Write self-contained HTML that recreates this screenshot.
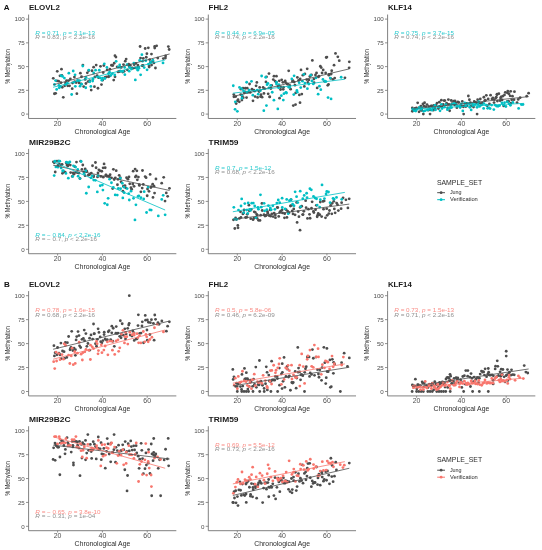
<!DOCTYPE html><html><head><meta charset="utf-8"><style>html,body{margin:0;padding:0;background:#fff;width:542px;height:550px;overflow:hidden}svg{display:block;filter:blur(0.45px);font-family:"Liberation Sans",sans-serif}</style></head><body><svg width="542" height="550" viewBox="0 0 542 550"><rect width="542" height="550" fill="#fff"/><text x="3.8" y="9.8" font-size="6.6" font-weight="bold" fill="#111" textLength="5.8" lengthAdjust="spacingAndGlyphs">A</text>
<text x="3.9" y="287" font-size="6.6" font-weight="bold" fill="#111" textLength="5.8" lengthAdjust="spacingAndGlyphs">B</text>
<text x="28.9" y="10.4" font-size="6.6" font-weight="bold" fill="#1a1a1a" textLength="31.0" lengthAdjust="spacingAndGlyphs">ELOVL2</text>
<path d="M28.6 14.54V118.47H176.33" fill="none" stroke="#737373" stroke-width="0.9"/>
<text x="24.8" y="116.35" font-size="6.2" fill="#4D4D4D" text-anchor="end" textLength="3.45" lengthAdjust="spacingAndGlyphs">0</text>
<text x="24.8" y="92.6" font-size="6.2" fill="#4D4D4D" text-anchor="end" textLength="6.9" lengthAdjust="spacingAndGlyphs">25</text>
<text x="24.8" y="68.85" font-size="6.2" fill="#4D4D4D" text-anchor="end" textLength="6.9" lengthAdjust="spacingAndGlyphs">50</text>
<text x="24.8" y="45.1" font-size="6.2" fill="#4D4D4D" text-anchor="end" textLength="6.9" lengthAdjust="spacingAndGlyphs">75</text>
<text x="24.8" y="21.35" font-size="6.2" fill="#4D4D4D" text-anchor="end" textLength="10.34" lengthAdjust="spacingAndGlyphs">100</text>
<text x="57.61" y="126" font-size="6.6" fill="#4D4D4D" text-anchor="middle" textLength="7.71" lengthAdjust="spacingAndGlyphs">20</text>
<text x="102.41" y="126" font-size="6.6" fill="#4D4D4D" text-anchor="middle" textLength="7.71" lengthAdjust="spacingAndGlyphs">40</text>
<text x="147.21" y="126" font-size="6.6" fill="#4D4D4D" text-anchor="middle" textLength="7.71" lengthAdjust="spacingAndGlyphs">60</text>
<path d="M26 114.1H28.6M26 90.35H28.6M26 66.6H28.6M26 42.85H28.6M26 19.1H28.6M57.61 118.47V120.27M102.41 118.47V120.27M147.21 118.47V120.27" stroke="#737373" stroke-width="0.8"/>
<text x="102.46" y="133.6" font-size="6.5" fill="#2a2a2a" text-anchor="middle" textLength="55.7" lengthAdjust="spacingAndGlyphs">Chronological Age</text>
<text transform="translate(9.8 66.5) rotate(-90)" font-size="6.8" fill="#2a2a2a" text-anchor="middle" textLength="34.6" lengthAdjust="spacingAndGlyphs">% Methylation</text>
<g fill="#4d4d4d"><circle cx="53.26" cy="78.31" r="1.4"/><circle cx="54.4" cy="93.75" r="1.4"/><circle cx="55.66" cy="93.34" r="1.4"/><circle cx="56.97" cy="80.81" r="1.4"/><circle cx="57.27" cy="71.3" r="1.4"/><circle cx="58.63" cy="81.14" r="1.4"/><circle cx="59.98" cy="75.8" r="1.4"/><circle cx="60.95" cy="82.67" r="1.4"/><circle cx="61.46" cy="69.15" r="1.4"/><circle cx="62.27" cy="87.24" r="1.4"/><circle cx="63.28" cy="97.35" r="1.4"/><circle cx="64.66" cy="85.83" r="1.4"/><circle cx="65.5" cy="82.99" r="1.4"/><circle cx="66.52" cy="80.53" r="1.4"/><circle cx="67.75" cy="85.81" r="1.4"/><circle cx="68.55" cy="80.62" r="1.4"/><circle cx="69.56" cy="85.81" r="1.4"/><circle cx="70.37" cy="78.89" r="1.4"/><circle cx="72.21" cy="88.72" r="1.4"/><circle cx="72.56" cy="83" r="1.4"/><circle cx="74.39" cy="77.05" r="1.4"/><circle cx="74.74" cy="81.71" r="1.4"/><circle cx="76.14" cy="82.51" r="1.4"/><circle cx="76.85" cy="93.7" r="1.4"/><circle cx="78.28" cy="80.89" r="1.4"/><circle cx="79.04" cy="82.93" r="1.4"/><circle cx="80.36" cy="73.14" r="1.4"/><circle cx="81.07" cy="83.92" r="1.4"/><circle cx="81.52" cy="76.77" r="1.4"/><circle cx="82.92" cy="65.07" r="1.4"/><circle cx="83.69" cy="86.62" r="1.4"/><circle cx="85.21" cy="79.46" r="1.4"/><circle cx="85.92" cy="83.5" r="1.4"/><circle cx="87.34" cy="72.81" r="1.4"/><circle cx="88.09" cy="81.61" r="1.4"/><circle cx="88.61" cy="70.64" r="1.4"/><circle cx="89.64" cy="80.65" r="1.4"/><circle cx="91.2" cy="90.04" r="1.4"/><circle cx="92.02" cy="70.76" r="1.4"/><circle cx="93.62" cy="67.21" r="1.4"/><circle cx="94.42" cy="86.68" r="1.4"/><circle cx="94.89" cy="77.02" r="1.4"/><circle cx="96.19" cy="65.08" r="1.4"/><circle cx="97.15" cy="75.74" r="1.4"/><circle cx="97.97" cy="88.25" r="1.4"/><circle cx="98.71" cy="77.71" r="1.4"/><circle cx="100.51" cy="66.34" r="1.4"/><circle cx="101.48" cy="84.55" r="1.4"/><circle cx="102.57" cy="80.21" r="1.4"/><circle cx="103.19" cy="72.57" r="1.4"/><circle cx="103.83" cy="65.49" r="1.4"/><circle cx="104.99" cy="77.39" r="1.4"/><circle cx="106.31" cy="76.96" r="1.4"/><circle cx="107.16" cy="69.93" r="1.4"/><circle cx="108.37" cy="76.73" r="1.4"/><circle cx="109.3" cy="76.36" r="1.4"/><circle cx="109.88" cy="69.27" r="1.4"/><circle cx="111.45" cy="65.26" r="1.4"/><circle cx="112.75" cy="65.48" r="1.4"/><circle cx="113.71" cy="80.11" r="1.4"/><circle cx="114.16" cy="63.24" r="1.4"/><circle cx="115" cy="76.78" r="1.4"/><circle cx="115.94" cy="57.07" r="1.4"/><circle cx="117.19" cy="66.84" r="1.4"/><circle cx="118.06" cy="71.95" r="1.4"/><circle cx="119.03" cy="71.69" r="1.4"/><circle cx="120.14" cy="71.05" r="1.4"/><circle cx="121.27" cy="67.47" r="1.4"/><circle cx="122.72" cy="72.02" r="1.4"/><circle cx="123.5" cy="64.54" r="1.4"/><circle cx="124.05" cy="71.3" r="1.4"/><circle cx="125.23" cy="61.18" r="1.4"/><circle cx="126.16" cy="59.06" r="1.4"/><circle cx="127.28" cy="69.86" r="1.4"/><circle cx="128.69" cy="64.25" r="1.4"/><circle cx="129.11" cy="65.94" r="1.4"/><circle cx="130.25" cy="65.16" r="1.4"/><circle cx="131.83" cy="67.83" r="1.4"/><circle cx="132.82" cy="68.23" r="1.4"/><circle cx="134.13" cy="64.67" r="1.4"/><circle cx="134.97" cy="67.85" r="1.4"/><circle cx="135.83" cy="63.41" r="1.4"/><circle cx="136.58" cy="67.92" r="1.4"/><circle cx="137.84" cy="65.07" r="1.4"/><circle cx="138.27" cy="67.52" r="1.4"/><circle cx="140.11" cy="46.49" r="1.4"/><circle cx="140.55" cy="58.06" r="1.4"/><circle cx="142.2" cy="65.68" r="1.4"/><circle cx="143.01" cy="65.4" r="1.4"/><circle cx="143.28" cy="58.39" r="1.4"/><circle cx="145.18" cy="48.48" r="1.4"/><circle cx="146.27" cy="57.25" r="1.4"/><circle cx="146.89" cy="53.65" r="1.4"/><circle cx="148.31" cy="47.83" r="1.4"/><circle cx="149.05" cy="65.88" r="1.4"/><circle cx="149.7" cy="59.6" r="1.4"/><circle cx="150.57" cy="62.26" r="1.4"/><circle cx="151.57" cy="65.04" r="1.4"/><circle cx="152.49" cy="61.31" r="1.4"/><circle cx="153.91" cy="62.94" r="1.4"/><circle cx="154.74" cy="48.04" r="1.4"/><circle cx="155.45" cy="68.01" r="1.4"/><circle cx="156.64" cy="45.82" r="1.4"/><circle cx="157.8" cy="58.04" r="1.4"/><circle cx="149.18" cy="67.03" r="1.4"/><circle cx="154.67" cy="46.49" r="1.4"/><circle cx="61.85" cy="75.46" r="1.4"/><circle cx="114.97" cy="55.64" r="1.4"/><circle cx="163.37" cy="58.58" r="1.4"/><circle cx="151.46" cy="54.12" r="1.4"/><circle cx="165.44" cy="58.03" r="1.4"/><circle cx="165.6" cy="56.01" r="1.4"/><circle cx="138.5" cy="67.18" r="1.4"/><circle cx="168.37" cy="46.56" r="1.4"/><circle cx="169.17" cy="49.52" r="1.4"/></g>
<g fill="#00BFC4"><circle cx="54.51" cy="84.49" r="1.4"/><circle cx="55.56" cy="80.53" r="1.4"/><circle cx="56.67" cy="89.45" r="1.4"/><circle cx="59.02" cy="85.32" r="1.4"/><circle cx="60.39" cy="86.31" r="1.4"/><circle cx="61.05" cy="75.66" r="1.4"/><circle cx="62.52" cy="76.43" r="1.4"/><circle cx="64.39" cy="78.04" r="1.4"/><circle cx="65.75" cy="84.62" r="1.4"/><circle cx="67.39" cy="83.19" r="1.4"/><circle cx="68.84" cy="73.21" r="1.4"/><circle cx="71.66" cy="94.52" r="1.4"/><circle cx="73.21" cy="70.99" r="1.4"/><circle cx="73.81" cy="82.33" r="1.4"/><circle cx="75.06" cy="74.85" r="1.4"/><circle cx="77.48" cy="80.42" r="1.4"/><circle cx="79.55" cy="80.56" r="1.4"/><circle cx="80.03" cy="86.21" r="1.4"/><circle cx="81.62" cy="84.13" r="1.4"/><circle cx="82.78" cy="66.02" r="1.4"/><circle cx="85.75" cy="87.73" r="1.4"/><circle cx="85.97" cy="77.36" r="1.4"/><circle cx="88.87" cy="70.15" r="1.4"/><circle cx="89.75" cy="81.74" r="1.4"/><circle cx="90.86" cy="86.44" r="1.4"/><circle cx="92.86" cy="79.18" r="1.4"/><circle cx="93.7" cy="72.99" r="1.4"/><circle cx="95.56" cy="70.19" r="1.4"/><circle cx="97.7" cy="77.07" r="1.4"/><circle cx="99.24" cy="70.27" r="1.4"/><circle cx="100.27" cy="77.97" r="1.4"/><circle cx="101.86" cy="80.22" r="1.4"/><circle cx="104.3" cy="63.83" r="1.4"/><circle cx="104.93" cy="78.52" r="1.4"/><circle cx="106.92" cy="67.44" r="1.4"/><circle cx="108.5" cy="73.7" r="1.4"/><circle cx="109.51" cy="72.24" r="1.4"/><circle cx="110.8" cy="75.42" r="1.4"/><circle cx="112.36" cy="73.55" r="1.4"/><circle cx="114.78" cy="74.98" r="1.4"/><circle cx="116.12" cy="61.29" r="1.4"/><circle cx="118.25" cy="67.24" r="1.4"/><circle cx="119.7" cy="65" r="1.4"/><circle cx="120.14" cy="67.29" r="1.4"/><circle cx="122.78" cy="71.45" r="1.4"/><circle cx="124.66" cy="67.45" r="1.4"/><circle cx="124.85" cy="74.64" r="1.4"/><circle cx="127.04" cy="64.72" r="1.4"/><circle cx="129.18" cy="71.2" r="1.4"/><circle cx="129.57" cy="67.28" r="1.4"/><circle cx="131.4" cy="69" r="1.4"/><circle cx="133.87" cy="63.09" r="1.4"/><circle cx="135.32" cy="79.9" r="1.4"/><circle cx="136.73" cy="68.3" r="1.4"/><circle cx="137.8" cy="70.2" r="1.4"/><circle cx="138.93" cy="68.34" r="1.4"/><circle cx="140.63" cy="74.86" r="1.4"/><circle cx="141.89" cy="54.68" r="1.4"/><circle cx="144.2" cy="67.6" r="1.4"/><circle cx="145.75" cy="60.63" r="1.4"/><circle cx="147.08" cy="69.8" r="1.4"/><circle cx="148.54" cy="64.06" r="1.4"/><circle cx="150.58" cy="62.12" r="1.4"/><circle cx="59.27" cy="87.78" r="1.4"/><circle cx="152.88" cy="60.27" r="1.4"/><circle cx="92.66" cy="81.02" r="1.4"/><circle cx="102.5" cy="78.12" r="1.4"/><circle cx="120.79" cy="71.27" r="1.4"/><circle cx="75.31" cy="86.34" r="1.4"/><circle cx="142.52" cy="61.15" r="1.4"/><circle cx="163.02" cy="62.91" r="1.4"/><circle cx="139.61" cy="60.49" r="1.4"/></g>
<line x1="53.13" y1="84.84" x2="169.61" y2="53.96" stroke="#4d4d4d" stroke-width="0.8"/>
<line x1="53.13" y1="87.22" x2="165.13" y2="59.95" stroke="#00BFC4" stroke-width="0.8"/>
<text x="35.3" y="34.6" font-size="6.0" fill="#00BFC4" fill-opacity="0.85" textLength="59.78" lengthAdjust="spacingAndGlyphs"><tspan font-style="italic">R</tspan> = 0.71, <tspan font-style="italic">p</tspan> = 3.1e-13</text>
<text x="35.3" y="39.2" font-size="6.0" fill="#7a7a7a" fill-opacity="0.85" textLength="59.78" lengthAdjust="spacingAndGlyphs"><tspan font-style="italic">R</tspan> = 0.83, <tspan font-style="italic">p</tspan> < 2.2e-16</text>
<text x="208.6" y="10.4" font-size="6.6" font-weight="bold" fill="#1a1a1a" textLength="19.6" lengthAdjust="spacingAndGlyphs">FHL2</text>
<path d="M208.3 14.54V118.47H356.03" fill="none" stroke="#737373" stroke-width="0.9"/>
<text x="204.5" y="116.35" font-size="6.2" fill="#4D4D4D" text-anchor="end" textLength="3.45" lengthAdjust="spacingAndGlyphs">0</text>
<text x="204.5" y="92.6" font-size="6.2" fill="#4D4D4D" text-anchor="end" textLength="6.9" lengthAdjust="spacingAndGlyphs">25</text>
<text x="204.5" y="68.85" font-size="6.2" fill="#4D4D4D" text-anchor="end" textLength="6.9" lengthAdjust="spacingAndGlyphs">50</text>
<text x="204.5" y="45.1" font-size="6.2" fill="#4D4D4D" text-anchor="end" textLength="6.9" lengthAdjust="spacingAndGlyphs">75</text>
<text x="204.5" y="21.35" font-size="6.2" fill="#4D4D4D" text-anchor="end" textLength="10.34" lengthAdjust="spacingAndGlyphs">100</text>
<text x="237.31" y="126" font-size="6.6" fill="#4D4D4D" text-anchor="middle" textLength="7.71" lengthAdjust="spacingAndGlyphs">20</text>
<text x="282.11" y="126" font-size="6.6" fill="#4D4D4D" text-anchor="middle" textLength="7.71" lengthAdjust="spacingAndGlyphs">40</text>
<text x="326.91" y="126" font-size="6.6" fill="#4D4D4D" text-anchor="middle" textLength="7.71" lengthAdjust="spacingAndGlyphs">60</text>
<path d="M205.7 114.1H208.3M205.7 90.35H208.3M205.7 66.6H208.3M205.7 42.85H208.3M205.7 19.1H208.3M237.31 118.47V120.27M282.11 118.47V120.27M326.91 118.47V120.27" stroke="#737373" stroke-width="0.8"/>
<text x="282.16" y="133.6" font-size="6.5" fill="#2a2a2a" text-anchor="middle" textLength="55.7" lengthAdjust="spacingAndGlyphs">Chronological Age</text>
<text transform="translate(189.5 66.5) rotate(-90)" font-size="6.8" fill="#2a2a2a" text-anchor="middle" textLength="34.6" lengthAdjust="spacingAndGlyphs">% Methylation</text>
<g fill="#4d4d4d"><circle cx="233.8" cy="94.6" r="1.4"/><circle cx="233.93" cy="96.84" r="1.4"/><circle cx="235.7" cy="96.54" r="1.4"/><circle cx="236.18" cy="103.62" r="1.4"/><circle cx="237.49" cy="100.95" r="1.4"/><circle cx="238.05" cy="99.69" r="1.4"/><circle cx="239.34" cy="101.78" r="1.4"/><circle cx="240.93" cy="89.18" r="1.4"/><circle cx="241.89" cy="100.1" r="1.4"/><circle cx="242.22" cy="95.93" r="1.4"/><circle cx="242.99" cy="88.04" r="1.4"/><circle cx="244.29" cy="92.74" r="1.4"/><circle cx="245.37" cy="88.25" r="1.4"/><circle cx="246.56" cy="97.58" r="1.4"/><circle cx="247.25" cy="88.16" r="1.4"/><circle cx="248.16" cy="92.14" r="1.4"/><circle cx="249.55" cy="84.01" r="1.4"/><circle cx="250.23" cy="92.47" r="1.4"/><circle cx="251.96" cy="89.26" r="1.4"/><circle cx="252.99" cy="100.78" r="1.4"/><circle cx="253.86" cy="90.19" r="1.4"/><circle cx="255.09" cy="96.55" r="1.4"/><circle cx="256.09" cy="85.78" r="1.4"/><circle cx="256.85" cy="82.43" r="1.4"/><circle cx="257.6" cy="97.4" r="1.4"/><circle cx="259.09" cy="91.61" r="1.4"/><circle cx="259.67" cy="87.41" r="1.4"/><circle cx="261.07" cy="94.74" r="1.4"/><circle cx="262.1" cy="97.19" r="1.4"/><circle cx="263.13" cy="87.42" r="1.4"/><circle cx="263.95" cy="93.45" r="1.4"/><circle cx="264.56" cy="88.63" r="1.4"/><circle cx="265.95" cy="81.88" r="1.4"/><circle cx="266.52" cy="76.85" r="1.4"/><circle cx="268.19" cy="93.86" r="1.4"/><circle cx="268.99" cy="73.55" r="1.4"/><circle cx="269.8" cy="96.81" r="1.4"/><circle cx="270.9" cy="88.51" r="1.4"/><circle cx="271.63" cy="85.33" r="1.4"/><circle cx="273.28" cy="79.55" r="1.4"/><circle cx="273.97" cy="76.21" r="1.4"/><circle cx="275.09" cy="81.06" r="1.4"/><circle cx="276.29" cy="82.36" r="1.4"/><circle cx="276.44" cy="76.2" r="1.4"/><circle cx="278.06" cy="86.47" r="1.4"/><circle cx="279.29" cy="80.85" r="1.4"/><circle cx="279.53" cy="98.18" r="1.4"/><circle cx="280.68" cy="86.98" r="1.4"/><circle cx="281.66" cy="79.86" r="1.4"/><circle cx="283.18" cy="89.34" r="1.4"/><circle cx="283.5" cy="87.16" r="1.4"/><circle cx="285.17" cy="80.96" r="1.4"/><circle cx="285.58" cy="82.54" r="1.4"/><circle cx="287.25" cy="84.04" r="1.4"/><circle cx="287.54" cy="83.98" r="1.4"/><circle cx="288.69" cy="70.78" r="1.4"/><circle cx="289.73" cy="85.45" r="1.4"/><circle cx="290.61" cy="89.14" r="1.4"/><circle cx="292.58" cy="81.25" r="1.4"/><circle cx="292.94" cy="80.72" r="1.4"/><circle cx="294.22" cy="82.12" r="1.4"/><circle cx="294.95" cy="85.21" r="1.4"/><circle cx="295.66" cy="92.96" r="1.4"/><circle cx="297.39" cy="77.38" r="1.4"/><circle cx="298.57" cy="80.42" r="1.4"/><circle cx="299.38" cy="94.91" r="1.4"/><circle cx="300.16" cy="78.94" r="1.4"/><circle cx="301.01" cy="69.92" r="1.4"/><circle cx="301.81" cy="94.04" r="1.4"/><circle cx="302.85" cy="75.17" r="1.4"/><circle cx="304.32" cy="86.39" r="1.4"/><circle cx="304.89" cy="73.97" r="1.4"/><circle cx="306.73" cy="79.56" r="1.4"/><circle cx="307.19" cy="68.86" r="1.4"/><circle cx="307.8" cy="82.52" r="1.4"/><circle cx="308.85" cy="79.93" r="1.4"/><circle cx="309.84" cy="76.48" r="1.4"/><circle cx="311.46" cy="75.02" r="1.4"/><circle cx="312.35" cy="60.41" r="1.4"/><circle cx="313.85" cy="79.12" r="1.4"/><circle cx="314.09" cy="82.63" r="1.4"/><circle cx="315.47" cy="74.95" r="1.4"/><circle cx="316.52" cy="72.95" r="1.4"/><circle cx="317.16" cy="87.92" r="1.4"/><circle cx="318.34" cy="76.97" r="1.4"/><circle cx="318.96" cy="76.21" r="1.4"/><circle cx="320.35" cy="66.27" r="1.4"/><circle cx="321.19" cy="67.56" r="1.4"/><circle cx="322.06" cy="73" r="1.4"/><circle cx="323.19" cy="69.93" r="1.4"/><circle cx="324.51" cy="81.35" r="1.4"/><circle cx="325.65" cy="72.99" r="1.4"/><circle cx="326.23" cy="57.48" r="1.4"/><circle cx="327.76" cy="85.29" r="1.4"/><circle cx="328.48" cy="84.29" r="1.4"/><circle cx="329.1" cy="74.43" r="1.4"/><circle cx="330.49" cy="78.35" r="1.4"/><circle cx="331.17" cy="73.98" r="1.4"/><circle cx="332.9" cy="79.3" r="1.4"/><circle cx="334.04" cy="65.19" r="1.4"/><circle cx="334.73" cy="78.08" r="1.4"/><circle cx="335.5" cy="53.4" r="1.4"/><circle cx="243.25" cy="97.69" r="1.4"/><circle cx="337.83" cy="56.81" r="1.4"/><circle cx="282.89" cy="82.34" r="1.4"/><circle cx="339.25" cy="60.63" r="1.4"/><circle cx="240.72" cy="94.54" r="1.4"/><circle cx="280.56" cy="89.5" r="1.4"/><circle cx="245.37" cy="91.9" r="1.4"/><circle cx="331.71" cy="70.77" r="1.4"/><circle cx="344.95" cy="77.8" r="1.4"/><circle cx="269.67" cy="96.93" r="1.4"/><circle cx="260.54" cy="96.71" r="1.4"/><circle cx="328.87" cy="75.22" r="1.4"/><circle cx="349.14" cy="67.78" r="1.4"/><circle cx="293.31" cy="105.55" r="1.4"/><circle cx="295.55" cy="104.6" r="1.4"/><circle cx="300.03" cy="102.7" r="1.4"/><circle cx="326.91" cy="57.1" r="1.4"/><circle cx="349.31" cy="61.85" r="1.4"/></g>
<g fill="#00BFC4"><circle cx="233.28" cy="85.76" r="1.4"/><circle cx="235.33" cy="101.82" r="1.4"/><circle cx="237.35" cy="111.36" r="1.4"/><circle cx="239.51" cy="87.41" r="1.4"/><circle cx="241.57" cy="88.7" r="1.4"/><circle cx="241.83" cy="95.06" r="1.4"/><circle cx="243.48" cy="90.68" r="1.4"/><circle cx="246.65" cy="82.23" r="1.4"/><circle cx="247.05" cy="92.38" r="1.4"/><circle cx="249.1" cy="90.07" r="1.4"/><circle cx="251.52" cy="81.37" r="1.4"/><circle cx="252.85" cy="95.17" r="1.4"/><circle cx="254.77" cy="91.14" r="1.4"/><circle cx="257.24" cy="90.05" r="1.4"/><circle cx="258.23" cy="94.19" r="1.4"/><circle cx="260.33" cy="90.67" r="1.4"/><circle cx="261.63" cy="76.01" r="1.4"/><circle cx="263.81" cy="110.64" r="1.4"/><circle cx="265.7" cy="77.25" r="1.4"/><circle cx="267.08" cy="84.68" r="1.4"/><circle cx="267.88" cy="83.37" r="1.4"/><circle cx="270.62" cy="85.51" r="1.4"/><circle cx="272.22" cy="92.24" r="1.4"/><circle cx="273.92" cy="100.13" r="1.4"/><circle cx="276.47" cy="82.08" r="1.4"/><circle cx="277.81" cy="108.89" r="1.4"/><circle cx="278.91" cy="84.64" r="1.4"/><circle cx="281.38" cy="95.68" r="1.4"/><circle cx="283.32" cy="100.07" r="1.4"/><circle cx="283.97" cy="93.63" r="1.4"/><circle cx="286.5" cy="93" r="1.4"/><circle cx="288.79" cy="87.16" r="1.4"/><circle cx="289.64" cy="87.18" r="1.4"/><circle cx="291.82" cy="78.94" r="1.4"/><circle cx="293.76" cy="94.59" r="1.4"/><circle cx="294.11" cy="75.84" r="1.4"/><circle cx="296.89" cy="90.44" r="1.4"/><circle cx="299.16" cy="82.72" r="1.4"/><circle cx="300.76" cy="87.56" r="1.4"/><circle cx="302.42" cy="81.22" r="1.4"/><circle cx="303.85" cy="74.28" r="1.4"/><circle cx="304.91" cy="83.05" r="1.4"/><circle cx="307.4" cy="88.66" r="1.4"/><circle cx="308.84" cy="84" r="1.4"/><circle cx="310.65" cy="75.21" r="1.4"/><circle cx="311.94" cy="80.9" r="1.4"/><circle cx="313.33" cy="83.91" r="1.4"/><circle cx="315.93" cy="77.94" r="1.4"/><circle cx="318.15" cy="94.15" r="1.4"/><circle cx="319.43" cy="86.21" r="1.4"/><circle cx="320.8" cy="89.68" r="1.4"/><circle cx="322.96" cy="79.39" r="1.4"/><circle cx="325.15" cy="81.24" r="1.4"/><circle cx="325.88" cy="81.58" r="1.4"/><circle cx="328.04" cy="97.55" r="1.4"/><circle cx="330.26" cy="78.07" r="1.4"/><circle cx="331.06" cy="98.95" r="1.4"/><circle cx="278.62" cy="87.86" r="1.4"/><circle cx="268.95" cy="87.81" r="1.4"/><circle cx="276.47" cy="83.98" r="1.4"/><circle cx="285.91" cy="92.36" r="1.4"/><circle cx="341.18" cy="77.23" r="1.4"/><circle cx="297.23" cy="92.21" r="1.4"/><circle cx="241.99" cy="98.23" r="1.4"/><circle cx="235.07" cy="109.35" r="1.4"/><circle cx="266.43" cy="105.55" r="1.4"/></g>
<line x1="232.83" y1="96.52" x2="349.31" y2="68.88" stroke="#4d4d4d" stroke-width="0.8"/>
<line x1="232.83" y1="93.2" x2="344.83" y2="79.23" stroke="#00BFC4" stroke-width="0.8"/>
<text x="215" y="34.6" font-size="6.0" fill="#00BFC4" fill-opacity="0.85" textLength="59.78" lengthAdjust="spacingAndGlyphs"><tspan font-style="italic">R</tspan> = 0.44, <tspan font-style="italic">p</tspan> = 6.9e-05</text>
<text x="215" y="39.2" font-size="6.0" fill="#7a7a7a" fill-opacity="0.85" textLength="59.78" lengthAdjust="spacingAndGlyphs"><tspan font-style="italic">R</tspan> = 0.74, <tspan font-style="italic">p</tspan> < 2.2e-16</text>
<text x="387.9" y="10.4" font-size="6.6" font-weight="bold" fill="#1a1a1a" textLength="23.9" lengthAdjust="spacingAndGlyphs">KLF14</text>
<path d="M387.6 14.54V118.47H535.33" fill="none" stroke="#737373" stroke-width="0.9"/>
<text x="383.8" y="116.35" font-size="6.2" fill="#4D4D4D" text-anchor="end" textLength="3.45" lengthAdjust="spacingAndGlyphs">0</text>
<text x="383.8" y="92.6" font-size="6.2" fill="#4D4D4D" text-anchor="end" textLength="6.9" lengthAdjust="spacingAndGlyphs">25</text>
<text x="383.8" y="68.85" font-size="6.2" fill="#4D4D4D" text-anchor="end" textLength="6.9" lengthAdjust="spacingAndGlyphs">50</text>
<text x="383.8" y="45.1" font-size="6.2" fill="#4D4D4D" text-anchor="end" textLength="6.9" lengthAdjust="spacingAndGlyphs">75</text>
<text x="383.8" y="21.35" font-size="6.2" fill="#4D4D4D" text-anchor="end" textLength="10.34" lengthAdjust="spacingAndGlyphs">100</text>
<text x="416.61" y="126" font-size="6.6" fill="#4D4D4D" text-anchor="middle" textLength="7.71" lengthAdjust="spacingAndGlyphs">20</text>
<text x="461.41" y="126" font-size="6.6" fill="#4D4D4D" text-anchor="middle" textLength="7.71" lengthAdjust="spacingAndGlyphs">40</text>
<text x="506.21" y="126" font-size="6.6" fill="#4D4D4D" text-anchor="middle" textLength="7.71" lengthAdjust="spacingAndGlyphs">60</text>
<path d="M385 114.1H387.6M385 90.35H387.6M385 66.6H387.6M385 42.85H387.6M385 19.1H387.6M416.61 118.47V120.27M461.41 118.47V120.27M506.21 118.47V120.27" stroke="#737373" stroke-width="0.8"/>
<text x="461.46" y="133.6" font-size="6.5" fill="#2a2a2a" text-anchor="middle" textLength="55.7" lengthAdjust="spacingAndGlyphs">Chronological Age</text>
<text transform="translate(368.8 66.5) rotate(-90)" font-size="6.8" fill="#2a2a2a" text-anchor="middle" textLength="34.6" lengthAdjust="spacingAndGlyphs">% Methylation</text>
<g fill="#4d4d4d"><circle cx="412.37" cy="111.24" r="1.4"/><circle cx="413.75" cy="109.52" r="1.4"/><circle cx="414.79" cy="108.42" r="1.4"/><circle cx="416.01" cy="108.49" r="1.4"/><circle cx="416.44" cy="107.82" r="1.4"/><circle cx="417.67" cy="102.85" r="1.4"/><circle cx="419.05" cy="111.8" r="1.4"/><circle cx="419.37" cy="107.77" r="1.4"/><circle cx="420.87" cy="106.09" r="1.4"/><circle cx="421.99" cy="110.25" r="1.4"/><circle cx="422.94" cy="104.02" r="1.4"/><circle cx="423.87" cy="106.15" r="1.4"/><circle cx="424.59" cy="102.77" r="1.4"/><circle cx="425.77" cy="106.62" r="1.4"/><circle cx="427.04" cy="104.54" r="1.4"/><circle cx="428.25" cy="110.15" r="1.4"/><circle cx="428.73" cy="106.41" r="1.4"/><circle cx="430.29" cy="109.8" r="1.4"/><circle cx="431.25" cy="105.87" r="1.4"/><circle cx="431.59" cy="106.17" r="1.4"/><circle cx="433.36" cy="110.2" r="1.4"/><circle cx="433.7" cy="105.31" r="1.4"/><circle cx="434.92" cy="108.49" r="1.4"/><circle cx="436.02" cy="104.88" r="1.4"/><circle cx="437.03" cy="103.06" r="1.4"/><circle cx="438.39" cy="108.57" r="1.4"/><circle cx="439.33" cy="102.13" r="1.4"/><circle cx="439.64" cy="106.35" r="1.4"/><circle cx="441.36" cy="100.16" r="1.4"/><circle cx="442.08" cy="107.18" r="1.4"/><circle cx="443.24" cy="104.48" r="1.4"/><circle cx="444.11" cy="100.58" r="1.4"/><circle cx="444.83" cy="100.55" r="1.4"/><circle cx="446.56" cy="103.26" r="1.4"/><circle cx="446.66" cy="104.48" r="1.4"/><circle cx="447.73" cy="108.01" r="1.4"/><circle cx="448.89" cy="104.46" r="1.4"/><circle cx="449.65" cy="110.77" r="1.4"/><circle cx="451.24" cy="100.52" r="1.4"/><circle cx="451.97" cy="103.54" r="1.4"/><circle cx="453.54" cy="101.25" r="1.4"/><circle cx="454.67" cy="104.94" r="1.4"/><circle cx="454.98" cy="101.01" r="1.4"/><circle cx="455.71" cy="102.58" r="1.4"/><circle cx="456.89" cy="107.64" r="1.4"/><circle cx="457.87" cy="101.98" r="1.4"/><circle cx="458.76" cy="102.36" r="1.4"/><circle cx="460.7" cy="105.78" r="1.4"/><circle cx="461.65" cy="106.16" r="1.4"/><circle cx="462.29" cy="101.4" r="1.4"/><circle cx="463.42" cy="106.75" r="1.4"/><circle cx="464.41" cy="105.66" r="1.4"/><circle cx="465.75" cy="106.55" r="1.4"/><circle cx="466.54" cy="103.39" r="1.4"/><circle cx="467.06" cy="105.85" r="1.4"/><circle cx="468.36" cy="96.01" r="1.4"/><circle cx="469.4" cy="99.77" r="1.4"/><circle cx="470.45" cy="102.6" r="1.4"/><circle cx="470.89" cy="106.05" r="1.4"/><circle cx="471.95" cy="105.6" r="1.4"/><circle cx="473.54" cy="107.11" r="1.4"/><circle cx="474.27" cy="101.43" r="1.4"/><circle cx="475.64" cy="102.33" r="1.4"/><circle cx="476" cy="102.91" r="1.4"/><circle cx="477.64" cy="99.71" r="1.4"/><circle cx="478.43" cy="102.54" r="1.4"/><circle cx="479.58" cy="103.16" r="1.4"/><circle cx="480.31" cy="99.02" r="1.4"/><circle cx="481.38" cy="103.91" r="1.4"/><circle cx="482.4" cy="103.1" r="1.4"/><circle cx="483.81" cy="97.25" r="1.4"/><circle cx="484.79" cy="100.59" r="1.4"/><circle cx="485.37" cy="100.23" r="1.4"/><circle cx="486.31" cy="95.3" r="1.4"/><circle cx="487.27" cy="105.72" r="1.4"/><circle cx="488.2" cy="98.91" r="1.4"/><circle cx="489.43" cy="103.96" r="1.4"/><circle cx="490.56" cy="95.22" r="1.4"/><circle cx="492" cy="99.06" r="1.4"/><circle cx="492.8" cy="97.78" r="1.4"/><circle cx="494.05" cy="102.61" r="1.4"/><circle cx="494.29" cy="99.56" r="1.4"/><circle cx="495.72" cy="97.89" r="1.4"/><circle cx="497.05" cy="94.23" r="1.4"/><circle cx="497.39" cy="101.06" r="1.4"/><circle cx="498.87" cy="93.66" r="1.4"/><circle cx="500.05" cy="100.7" r="1.4"/><circle cx="500.54" cy="98.11" r="1.4"/><circle cx="502.06" cy="99.88" r="1.4"/><circle cx="502.7" cy="96.21" r="1.4"/><circle cx="503.71" cy="105.91" r="1.4"/><circle cx="504.46" cy="94.95" r="1.4"/><circle cx="505.32" cy="92.33" r="1.4"/><circle cx="507.32" cy="101.44" r="1.4"/><circle cx="507.78" cy="91.12" r="1.4"/><circle cx="508.58" cy="101.27" r="1.4"/><circle cx="510.12" cy="95.86" r="1.4"/><circle cx="510.9" cy="103.03" r="1.4"/><circle cx="511.68" cy="99.83" r="1.4"/><circle cx="512.47" cy="96.17" r="1.4"/><circle cx="514.01" cy="99.7" r="1.4"/><circle cx="514.47" cy="91.7" r="1.4"/><circle cx="507.32" cy="92.85" r="1.4"/><circle cx="517.04" cy="102.6" r="1.4"/><circle cx="518.22" cy="99.4" r="1.4"/><circle cx="508.89" cy="93.73" r="1.4"/><circle cx="520.11" cy="97.64" r="1.4"/><circle cx="448.38" cy="99.59" r="1.4"/><circle cx="496.29" cy="97.21" r="1.4"/><circle cx="496.98" cy="94.68" r="1.4"/><circle cx="501.01" cy="96.95" r="1.4"/><circle cx="455.71" cy="103.69" r="1.4"/><circle cx="412.31" cy="107.88" r="1.4"/><circle cx="526.71" cy="96.16" r="1.4"/><circle cx="421" cy="110.28" r="1.4"/><circle cx="423.33" cy="114.1" r="1.4"/><circle cx="430.05" cy="114.1" r="1.4"/><circle cx="463.65" cy="114.1" r="1.4"/><circle cx="477.09" cy="114.1" r="1.4"/><circle cx="510.69" cy="91.3" r="1.4"/><circle cx="528.61" cy="93.2" r="1.4"/></g>
<g fill="#00BFC4"><circle cx="412.62" cy="109.06" r="1.4"/><circle cx="414.23" cy="110.63" r="1.4"/><circle cx="415.8" cy="111.09" r="1.4"/><circle cx="417.09" cy="109.32" r="1.4"/><circle cx="419.21" cy="107.76" r="1.4"/><circle cx="421.02" cy="109.24" r="1.4"/><circle cx="421.74" cy="107.99" r="1.4"/><circle cx="423.6" cy="111.37" r="1.4"/><circle cx="425.16" cy="110.63" r="1.4"/><circle cx="427.37" cy="109.88" r="1.4"/><circle cx="428.26" cy="109.79" r="1.4"/><circle cx="430.01" cy="108.79" r="1.4"/><circle cx="431.87" cy="110.15" r="1.4"/><circle cx="433.07" cy="107.92" r="1.4"/><circle cx="434.99" cy="105.31" r="1.4"/><circle cx="435.57" cy="109.83" r="1.4"/><circle cx="438.39" cy="106.73" r="1.4"/><circle cx="440.03" cy="110.79" r="1.4"/><circle cx="441.36" cy="104.41" r="1.4"/><circle cx="442.09" cy="108.58" r="1.4"/><circle cx="444.5" cy="107.18" r="1.4"/><circle cx="445.82" cy="104.53" r="1.4"/><circle cx="447.39" cy="109.68" r="1.4"/><circle cx="449.05" cy="108.08" r="1.4"/><circle cx="450.38" cy="107.5" r="1.4"/><circle cx="451.02" cy="104.85" r="1.4"/><circle cx="452.64" cy="104.17" r="1.4"/><circle cx="454.27" cy="103.42" r="1.4"/><circle cx="455.96" cy="104.32" r="1.4"/><circle cx="457.28" cy="106.19" r="1.4"/><circle cx="460.11" cy="107.51" r="1.4"/><circle cx="461.4" cy="103.9" r="1.4"/><circle cx="462.81" cy="110.91" r="1.4"/><circle cx="464.7" cy="102.91" r="1.4"/><circle cx="465.81" cy="105.53" r="1.4"/><circle cx="467.68" cy="103.52" r="1.4"/><circle cx="469.58" cy="103.98" r="1.4"/><circle cx="469.78" cy="107.34" r="1.4"/><circle cx="472.53" cy="103.59" r="1.4"/><circle cx="473.17" cy="105.28" r="1.4"/><circle cx="475.31" cy="104.42" r="1.4"/><circle cx="477.08" cy="107.33" r="1.4"/><circle cx="478.08" cy="104.47" r="1.4"/><circle cx="479.56" cy="106.39" r="1.4"/><circle cx="481.35" cy="105.11" r="1.4"/><circle cx="483.64" cy="108.39" r="1.4"/><circle cx="483.93" cy="103.61" r="1.4"/><circle cx="486.31" cy="105.17" r="1.4"/><circle cx="487.6" cy="108.35" r="1.4"/><circle cx="489.1" cy="107.93" r="1.4"/><circle cx="490.14" cy="108.58" r="1.4"/><circle cx="491.61" cy="105.07" r="1.4"/><circle cx="493.82" cy="109.57" r="1.4"/><circle cx="495.26" cy="105.09" r="1.4"/><circle cx="496.54" cy="106.08" r="1.4"/><circle cx="497.99" cy="106.26" r="1.4"/><circle cx="499.6" cy="105.54" r="1.4"/><circle cx="501.87" cy="102.82" r="1.4"/><circle cx="503.45" cy="104.92" r="1.4"/><circle cx="504.55" cy="102.68" r="1.4"/><circle cx="505.88" cy="106.5" r="1.4"/><circle cx="507.36" cy="101.86" r="1.4"/><circle cx="509.17" cy="103.78" r="1.4"/><circle cx="510.4" cy="105.24" r="1.4"/><circle cx="512.89" cy="102.52" r="1.4"/><circle cx="471.17" cy="109.95" r="1.4"/><circle cx="459.56" cy="105.86" r="1.4"/><circle cx="451.58" cy="107.6" r="1.4"/><circle cx="518.63" cy="108.45" r="1.4"/><circle cx="478.69" cy="101.72" r="1.4"/><circle cx="521.39" cy="104.56" r="1.4"/><circle cx="522.97" cy="104.58" r="1.4"/></g>
<line x1="412.13" y1="109.06" x2="528.61" y2="96.62" stroke="#4d4d4d" stroke-width="0.8"/>
<line x1="412.13" y1="109.06" x2="524.13" y2="103.36" stroke="#00BFC4" stroke-width="0.8"/>
<text x="394.3" y="34.6" font-size="6.0" fill="#00BFC4" fill-opacity="0.85" textLength="59.78" lengthAdjust="spacingAndGlyphs"><tspan font-style="italic">R</tspan> = 0.75, <tspan font-style="italic">p</tspan> = 3.7e-15</text>
<text x="394.3" y="39.2" font-size="6.0" fill="#7a7a7a" fill-opacity="0.85" textLength="59.78" lengthAdjust="spacingAndGlyphs"><tspan font-style="italic">R</tspan> = 0.74, <tspan font-style="italic">p</tspan> < 2.2e-16</text>
<text x="28.9" y="144.8" font-size="6.6" font-weight="bold" fill="#1a1a1a" textLength="41.6" lengthAdjust="spacingAndGlyphs">MIR29B2C</text>
<path d="M28.6 148.9V253.71H176.33" fill="none" stroke="#737373" stroke-width="0.9"/>
<text x="24.8" y="251.55" font-size="6.2" fill="#4D4D4D" text-anchor="end" textLength="3.45" lengthAdjust="spacingAndGlyphs">0</text>
<text x="24.8" y="227.6" font-size="6.2" fill="#4D4D4D" text-anchor="end" textLength="6.9" lengthAdjust="spacingAndGlyphs">25</text>
<text x="24.8" y="203.65" font-size="6.2" fill="#4D4D4D" text-anchor="end" textLength="6.9" lengthAdjust="spacingAndGlyphs">50</text>
<text x="24.8" y="179.7" font-size="6.2" fill="#4D4D4D" text-anchor="end" textLength="6.9" lengthAdjust="spacingAndGlyphs">75</text>
<text x="24.8" y="155.75" font-size="6.2" fill="#4D4D4D" text-anchor="end" textLength="10.34" lengthAdjust="spacingAndGlyphs">100</text>
<text x="57.61" y="261.2" font-size="6.6" fill="#4D4D4D" text-anchor="middle" textLength="7.71" lengthAdjust="spacingAndGlyphs">20</text>
<text x="102.41" y="261.2" font-size="6.6" fill="#4D4D4D" text-anchor="middle" textLength="7.71" lengthAdjust="spacingAndGlyphs">40</text>
<text x="147.21" y="261.2" font-size="6.6" fill="#4D4D4D" text-anchor="middle" textLength="7.71" lengthAdjust="spacingAndGlyphs">60</text>
<path d="M26 249.3H28.6M26 225.35H28.6M26 201.4H28.6M26 177.45H28.6M26 153.5H28.6M57.61 253.71V255.51M102.41 253.71V255.51M147.21 253.71V255.51" stroke="#737373" stroke-width="0.8"/>
<text x="102.46" y="268.8" font-size="6.5" fill="#2a2a2a" text-anchor="middle" textLength="55.7" lengthAdjust="spacingAndGlyphs">Chronological Age</text>
<text transform="translate(9.8 201.3) rotate(-90)" font-size="6.8" fill="#2a2a2a" text-anchor="middle" textLength="34.6" lengthAdjust="spacingAndGlyphs">% Methylation</text>
<g fill="#4d4d4d"><circle cx="53.37" cy="161.86" r="1.4"/><circle cx="54.3" cy="162.87" r="1.4"/><circle cx="55.22" cy="172" r="1.4"/><circle cx="56.98" cy="161.16" r="1.4"/><circle cx="57.95" cy="165.29" r="1.4"/><circle cx="58.47" cy="161.16" r="1.4"/><circle cx="59.38" cy="164.17" r="1.4"/><circle cx="61.16" cy="165.04" r="1.4"/><circle cx="62.07" cy="164.37" r="1.4"/><circle cx="62.44" cy="173.3" r="1.4"/><circle cx="63.57" cy="171.58" r="1.4"/><circle cx="65.14" cy="172.06" r="1.4"/><circle cx="66.17" cy="162.76" r="1.4"/><circle cx="66.98" cy="164.99" r="1.4"/><circle cx="67.82" cy="166.12" r="1.4"/><circle cx="68.41" cy="163.86" r="1.4"/><circle cx="70.28" cy="165.06" r="1.4"/><circle cx="70.65" cy="172.55" r="1.4"/><circle cx="72.28" cy="176.41" r="1.4"/><circle cx="73.23" cy="173.02" r="1.4"/><circle cx="73.9" cy="174.14" r="1.4"/><circle cx="74.83" cy="166.63" r="1.4"/><circle cx="75.57" cy="172.46" r="1.4"/><circle cx="76.47" cy="162.09" r="1.4"/><circle cx="77.48" cy="172.69" r="1.4"/><circle cx="78.99" cy="173.08" r="1.4"/><circle cx="79.94" cy="178.48" r="1.4"/><circle cx="80.67" cy="161.16" r="1.4"/><circle cx="81.91" cy="169.42" r="1.4"/><circle cx="82.78" cy="165.01" r="1.4"/><circle cx="83.87" cy="171.93" r="1.4"/><circle cx="85.09" cy="175.68" r="1.4"/><circle cx="86.46" cy="171" r="1.4"/><circle cx="86.78" cy="171.44" r="1.4"/><circle cx="88.34" cy="175.09" r="1.4"/><circle cx="88.91" cy="174.97" r="1.4"/><circle cx="89.77" cy="174.32" r="1.4"/><circle cx="91.31" cy="173.1" r="1.4"/><circle cx="92.52" cy="165.76" r="1.4"/><circle cx="93.6" cy="175.89" r="1.4"/><circle cx="93.66" cy="176.64" r="1.4"/><circle cx="95.44" cy="162.48" r="1.4"/><circle cx="96.08" cy="167.75" r="1.4"/><circle cx="97.51" cy="176.9" r="1.4"/><circle cx="97.99" cy="172.89" r="1.4"/><circle cx="98.85" cy="169.81" r="1.4"/><circle cx="100.11" cy="170.79" r="1.4"/><circle cx="100.74" cy="176.45" r="1.4"/><circle cx="101.79" cy="171.25" r="1.4"/><circle cx="103.13" cy="167.86" r="1.4"/><circle cx="104.07" cy="163.9" r="1.4"/><circle cx="105.21" cy="167.75" r="1.4"/><circle cx="106.01" cy="174.97" r="1.4"/><circle cx="106.98" cy="176.21" r="1.4"/><circle cx="108.51" cy="176.28" r="1.4"/><circle cx="109.33" cy="176.11" r="1.4"/><circle cx="110.1" cy="174.75" r="1.4"/><circle cx="111.4" cy="177.87" r="1.4"/><circle cx="112.66" cy="188.58" r="1.4"/><circle cx="113.37" cy="169.35" r="1.4"/><circle cx="114.15" cy="179.5" r="1.4"/><circle cx="115.34" cy="177.87" r="1.4"/><circle cx="116.18" cy="170.71" r="1.4"/><circle cx="117.44" cy="184.76" r="1.4"/><circle cx="117.98" cy="179.37" r="1.4"/><circle cx="119.18" cy="175.28" r="1.4"/><circle cx="120.21" cy="177.59" r="1.4"/><circle cx="121.04" cy="181.83" r="1.4"/><circle cx="122.94" cy="191.25" r="1.4"/><circle cx="123.42" cy="186.24" r="1.4"/><circle cx="124.94" cy="185.58" r="1.4"/><circle cx="125.8" cy="187.95" r="1.4"/><circle cx="126.56" cy="177.76" r="1.4"/><circle cx="127.95" cy="179.19" r="1.4"/><circle cx="128.99" cy="176.88" r="1.4"/><circle cx="129.76" cy="183.84" r="1.4"/><circle cx="130.92" cy="187.69" r="1.4"/><circle cx="131.65" cy="189.26" r="1.4"/><circle cx="132.79" cy="184.01" r="1.4"/><circle cx="134.08" cy="186.36" r="1.4"/><circle cx="135.13" cy="169.03" r="1.4"/><circle cx="136.14" cy="175.91" r="1.4"/><circle cx="136.86" cy="170.8" r="1.4"/><circle cx="137.33" cy="179.85" r="1.4"/><circle cx="139.19" cy="184.76" r="1.4"/><circle cx="139.39" cy="185.46" r="1.4"/><circle cx="140.88" cy="191.86" r="1.4"/><circle cx="142.19" cy="188.08" r="1.4"/><circle cx="142.48" cy="170.49" r="1.4"/><circle cx="143.29" cy="184.47" r="1.4"/><circle cx="145.17" cy="176.61" r="1.4"/><circle cx="146.09" cy="177.71" r="1.4"/><circle cx="147.2" cy="195.74" r="1.4"/><circle cx="147.53" cy="189.02" r="1.4"/><circle cx="149.02" cy="191.35" r="1.4"/><circle cx="150.13" cy="174.43" r="1.4"/><circle cx="150.84" cy="187.6" r="1.4"/><circle cx="151.41" cy="186.73" r="1.4"/><circle cx="152.99" cy="197.44" r="1.4"/><circle cx="154.02" cy="186.18" r="1.4"/><circle cx="154.56" cy="193.12" r="1.4"/><circle cx="155.96" cy="179.02" r="1.4"/><circle cx="138.4" cy="177.08" r="1.4"/><circle cx="85.19" cy="169" r="1.4"/><circle cx="152.69" cy="184.17" r="1.4"/><circle cx="105.93" cy="175.15" r="1.4"/><circle cx="133.15" cy="171.21" r="1.4"/><circle cx="161.7" cy="183.14" r="1.4"/><circle cx="135.39" cy="176.91" r="1.4"/><circle cx="163.71" cy="177.32" r="1.4"/><circle cx="165.04" cy="201.03" r="1.4"/><circle cx="166.28" cy="192.88" r="1.4"/><circle cx="103.26" cy="177.15" r="1.4"/><circle cx="167.66" cy="196.31" r="1.4"/><circle cx="169.45" cy="188.36" r="1.4"/></g>
<g fill="#00BFC4"><circle cx="54.16" cy="175.62" r="1.4"/><circle cx="55.89" cy="166.97" r="1.4"/><circle cx="57.93" cy="167.2" r="1.4"/><circle cx="58.84" cy="161.16" r="1.4"/><circle cx="61.15" cy="168.06" r="1.4"/><circle cx="62.66" cy="171.05" r="1.4"/><circle cx="63.24" cy="170.6" r="1.4"/><circle cx="65.93" cy="173.45" r="1.4"/><circle cx="66.52" cy="162.18" r="1.4"/><circle cx="68.09" cy="162.77" r="1.4"/><circle cx="69.89" cy="161.96" r="1.4"/><circle cx="72.73" cy="176.41" r="1.4"/><circle cx="73.47" cy="165.78" r="1.4"/><circle cx="75.56" cy="167.11" r="1.4"/><circle cx="77.73" cy="169.46" r="1.4"/><circle cx="78.13" cy="176.13" r="1.4"/><circle cx="79.98" cy="178.61" r="1.4"/><circle cx="81.17" cy="161.5" r="1.4"/><circle cx="84.14" cy="173.48" r="1.4"/><circle cx="85.74" cy="171.02" r="1.4"/><circle cx="86.33" cy="193.26" r="1.4"/><circle cx="88.68" cy="187.02" r="1.4"/><circle cx="90.91" cy="177.86" r="1.4"/><circle cx="92.26" cy="175.83" r="1.4"/><circle cx="93.73" cy="180.07" r="1.4"/><circle cx="95.42" cy="180.36" r="1.4"/><circle cx="97.32" cy="191.96" r="1.4"/><circle cx="98.1" cy="175.64" r="1.4"/><circle cx="100.23" cy="185.75" r="1.4"/><circle cx="102.37" cy="185.07" r="1.4"/><circle cx="102.92" cy="190.1" r="1.4"/><circle cx="104.72" cy="203.34" r="1.4"/><circle cx="107.31" cy="204.76" r="1.4"/><circle cx="108.14" cy="198.33" r="1.4"/><circle cx="109.6" cy="179.14" r="1.4"/><circle cx="111.45" cy="182.76" r="1.4"/><circle cx="113.31" cy="187.38" r="1.4"/><circle cx="115.21" cy="194.93" r="1.4"/><circle cx="117.28" cy="195.12" r="1.4"/><circle cx="118.39" cy="188.49" r="1.4"/><circle cx="120.61" cy="188.72" r="1.4"/><circle cx="122.28" cy="183.27" r="1.4"/><circle cx="122.82" cy="197.93" r="1.4"/><circle cx="124.1" cy="192.7" r="1.4"/><circle cx="127.13" cy="188.6" r="1.4"/><circle cx="128.72" cy="193.64" r="1.4"/><circle cx="129.29" cy="200" r="1.4"/><circle cx="131.03" cy="191.22" r="1.4"/><circle cx="133.49" cy="198.3" r="1.4"/><circle cx="134.96" cy="219.92" r="1.4"/><circle cx="135.91" cy="204.83" r="1.4"/><circle cx="137.99" cy="196.47" r="1.4"/><circle cx="138.83" cy="195.84" r="1.4"/><circle cx="140.94" cy="197.64" r="1.4"/><circle cx="143.7" cy="198.88" r="1.4"/><circle cx="144.19" cy="191.63" r="1.4"/><circle cx="146.57" cy="212.48" r="1.4"/><circle cx="148.09" cy="187.06" r="1.4"/><circle cx="149.84" cy="209.9" r="1.4"/><circle cx="151.23" cy="210.03" r="1.4"/><circle cx="68.33" cy="178.2" r="1.4"/><circle cx="59.81" cy="161.16" r="1.4"/><circle cx="120.36" cy="178.52" r="1.4"/><circle cx="158.31" cy="215.95" r="1.4"/><circle cx="55" cy="161.16" r="1.4"/><circle cx="161.77" cy="199.45" r="1.4"/><circle cx="163.19" cy="195.35" r="1.4"/><circle cx="123.95" cy="187.09" r="1.4"/><circle cx="165.13" cy="214.81" r="1.4"/></g>
<line x1="53.13" y1="165.19" x2="169.61" y2="190.48" stroke="#4d4d4d" stroke-width="0.8"/>
<line x1="53.13" y1="161.83" x2="165.13" y2="210.02" stroke="#00BFC4" stroke-width="0.8"/>
<text x="35.3" y="236.7" font-size="6.0" fill="#00BFC4" fill-opacity="0.85" textLength="65.23" lengthAdjust="spacingAndGlyphs"><tspan font-style="italic">R</tspan> = − 0.84, <tspan font-style="italic">p</tspan> < 2.2e-16</text>
<text x="35.3" y="241" font-size="6.0" fill="#7a7a7a" fill-opacity="0.85" textLength="61.71" lengthAdjust="spacingAndGlyphs"><tspan font-style="italic">R</tspan> = − 0.7, <tspan font-style="italic">p</tspan> < 2.2e-16</text>
<text x="208.6" y="144.8" font-size="6.6" font-weight="bold" fill="#1a1a1a" textLength="29.9" lengthAdjust="spacingAndGlyphs">TRIM59</text>
<path d="M208.3 148.9V253.71H356.03" fill="none" stroke="#737373" stroke-width="0.9"/>
<text x="204.5" y="251.55" font-size="6.2" fill="#4D4D4D" text-anchor="end" textLength="3.45" lengthAdjust="spacingAndGlyphs">0</text>
<text x="204.5" y="227.6" font-size="6.2" fill="#4D4D4D" text-anchor="end" textLength="6.9" lengthAdjust="spacingAndGlyphs">25</text>
<text x="204.5" y="203.65" font-size="6.2" fill="#4D4D4D" text-anchor="end" textLength="6.9" lengthAdjust="spacingAndGlyphs">50</text>
<text x="204.5" y="179.7" font-size="6.2" fill="#4D4D4D" text-anchor="end" textLength="6.9" lengthAdjust="spacingAndGlyphs">75</text>
<text x="204.5" y="155.75" font-size="6.2" fill="#4D4D4D" text-anchor="end" textLength="10.34" lengthAdjust="spacingAndGlyphs">100</text>
<text x="237.31" y="261.2" font-size="6.6" fill="#4D4D4D" text-anchor="middle" textLength="7.71" lengthAdjust="spacingAndGlyphs">20</text>
<text x="282.11" y="261.2" font-size="6.6" fill="#4D4D4D" text-anchor="middle" textLength="7.71" lengthAdjust="spacingAndGlyphs">40</text>
<text x="326.91" y="261.2" font-size="6.6" fill="#4D4D4D" text-anchor="middle" textLength="7.71" lengthAdjust="spacingAndGlyphs">60</text>
<path d="M205.7 249.3H208.3M205.7 225.35H208.3M205.7 201.4H208.3M205.7 177.45H208.3M205.7 153.5H208.3M237.31 253.71V255.51M282.11 253.71V255.51M326.91 253.71V255.51" stroke="#737373" stroke-width="0.8"/>
<text x="282.16" y="268.8" font-size="6.5" fill="#2a2a2a" text-anchor="middle" textLength="55.7" lengthAdjust="spacingAndGlyphs">Chronological Age</text>
<text transform="translate(189.5 201.3) rotate(-90)" font-size="6.8" fill="#2a2a2a" text-anchor="middle" textLength="34.6" lengthAdjust="spacingAndGlyphs">% Methylation</text>
<g fill="#4d4d4d"><circle cx="233.46" cy="219.81" r="1.4"/><circle cx="234.8" cy="228.52" r="1.4"/><circle cx="235.6" cy="217.92" r="1.4"/><circle cx="236.34" cy="219.55" r="1.4"/><circle cx="237.83" cy="225.47" r="1.4"/><circle cx="238.01" cy="227.85" r="1.4"/><circle cx="239.38" cy="218.41" r="1.4"/><circle cx="240.5" cy="211.8" r="1.4"/><circle cx="240.94" cy="217.46" r="1.4"/><circle cx="242.87" cy="213.92" r="1.4"/><circle cx="243.73" cy="212.91" r="1.4"/><circle cx="244.11" cy="209.99" r="1.4"/><circle cx="245.61" cy="217.51" r="1.4"/><circle cx="246.88" cy="217.34" r="1.4"/><circle cx="247.22" cy="214.29" r="1.4"/><circle cx="248.9" cy="205.18" r="1.4"/><circle cx="249.33" cy="210.87" r="1.4"/><circle cx="250.73" cy="218.63" r="1.4"/><circle cx="251.27" cy="209.46" r="1.4"/><circle cx="253.05" cy="219.67" r="1.4"/><circle cx="253.99" cy="218.13" r="1.4"/><circle cx="254.27" cy="211.83" r="1.4"/><circle cx="255.26" cy="212.36" r="1.4"/><circle cx="256.73" cy="214.49" r="1.4"/><circle cx="257.14" cy="218.3" r="1.4"/><circle cx="258.46" cy="220.34" r="1.4"/><circle cx="259.99" cy="220.39" r="1.4"/><circle cx="260.66" cy="215.19" r="1.4"/><circle cx="261.9" cy="203.47" r="1.4"/><circle cx="262.22" cy="210.52" r="1.4"/><circle cx="263.97" cy="214.75" r="1.4"/><circle cx="265.02" cy="216.01" r="1.4"/><circle cx="265.61" cy="215.72" r="1.4"/><circle cx="266.3" cy="215.34" r="1.4"/><circle cx="267.45" cy="211.51" r="1.4"/><circle cx="269.04" cy="215.61" r="1.4"/><circle cx="270.23" cy="209.96" r="1.4"/><circle cx="270.66" cy="216.16" r="1.4"/><circle cx="271.85" cy="213.87" r="1.4"/><circle cx="273.09" cy="216.6" r="1.4"/><circle cx="274.15" cy="213.06" r="1.4"/><circle cx="275.31" cy="214.93" r="1.4"/><circle cx="275.46" cy="217.71" r="1.4"/><circle cx="277.31" cy="207.46" r="1.4"/><circle cx="277.74" cy="207.62" r="1.4"/><circle cx="278.72" cy="216.4" r="1.4"/><circle cx="279.74" cy="212.3" r="1.4"/><circle cx="280.58" cy="211.22" r="1.4"/><circle cx="282.14" cy="209.79" r="1.4"/><circle cx="282.51" cy="212.94" r="1.4"/><circle cx="284.47" cy="217.87" r="1.4"/><circle cx="284.72" cy="213.71" r="1.4"/><circle cx="286.1" cy="209.72" r="1.4"/><circle cx="286.94" cy="217.45" r="1.4"/><circle cx="287.58" cy="211.03" r="1.4"/><circle cx="289.04" cy="212.7" r="1.4"/><circle cx="290.4" cy="206.01" r="1.4"/><circle cx="291.52" cy="205.44" r="1.4"/><circle cx="292.21" cy="211" r="1.4"/><circle cx="293.03" cy="213.92" r="1.4"/><circle cx="293.75" cy="208.92" r="1.4"/><circle cx="295.07" cy="214.87" r="1.4"/><circle cx="296.64" cy="202.39" r="1.4"/><circle cx="297.1" cy="222.47" r="1.4"/><circle cx="298.15" cy="211.59" r="1.4"/><circle cx="298.96" cy="216.68" r="1.4"/><circle cx="300.09" cy="207.46" r="1.4"/><circle cx="301.69" cy="206.27" r="1.4"/><circle cx="302.68" cy="214.55" r="1.4"/><circle cx="303.06" cy="214.6" r="1.4"/><circle cx="303.82" cy="211.35" r="1.4"/><circle cx="305.62" cy="200.72" r="1.4"/><circle cx="306.12" cy="207.72" r="1.4"/><circle cx="307.47" cy="218.46" r="1.4"/><circle cx="308.45" cy="209.16" r="1.4"/><circle cx="309.51" cy="214.32" r="1.4"/><circle cx="310.09" cy="218.24" r="1.4"/><circle cx="311.52" cy="208.24" r="1.4"/><circle cx="312.13" cy="201.79" r="1.4"/><circle cx="313.43" cy="211.36" r="1.4"/><circle cx="313.87" cy="212.58" r="1.4"/><circle cx="315.55" cy="209.69" r="1.4"/><circle cx="316.35" cy="205.32" r="1.4"/><circle cx="317.7" cy="215.19" r="1.4"/><circle cx="318.26" cy="213.49" r="1.4"/><circle cx="319.76" cy="214.75" r="1.4"/><circle cx="320.29" cy="202.04" r="1.4"/><circle cx="321.64" cy="216.6" r="1.4"/><circle cx="322.95" cy="201.42" r="1.4"/><circle cx="323.51" cy="209.2" r="1.4"/><circle cx="324.15" cy="200.97" r="1.4"/><circle cx="325.48" cy="217.83" r="1.4"/><circle cx="326.71" cy="208.67" r="1.4"/><circle cx="327.2" cy="215.37" r="1.4"/><circle cx="328.83" cy="213.59" r="1.4"/><circle cx="329.48" cy="210.49" r="1.4"/><circle cx="330.7" cy="205.37" r="1.4"/><circle cx="331.81" cy="213.8" r="1.4"/><circle cx="332.12" cy="203.3" r="1.4"/><circle cx="333.76" cy="201.33" r="1.4"/><circle cx="334.34" cy="208.97" r="1.4"/><circle cx="335.17" cy="212.79" r="1.4"/><circle cx="336.62" cy="203.09" r="1.4"/><circle cx="337.48" cy="204.7" r="1.4"/><circle cx="338.36" cy="210.56" r="1.4"/><circle cx="257.34" cy="215.07" r="1.4"/><circle cx="341.11" cy="208.69" r="1.4"/><circle cx="341.62" cy="202.71" r="1.4"/><circle cx="343.06" cy="197.82" r="1.4"/><circle cx="267.8" cy="213.18" r="1.4"/><circle cx="317.17" cy="216.74" r="1.4"/><circle cx="345.91" cy="199.83" r="1.4"/><circle cx="290.93" cy="199.65" r="1.4"/><circle cx="347.9" cy="207.94" r="1.4"/><circle cx="349.2" cy="198.8" r="1.4"/><circle cx="300.03" cy="230.14" r="1.4"/></g>
<g fill="#00BFC4"><circle cx="233.84" cy="207.3" r="1.4"/><circle cx="234.71" cy="219.05" r="1.4"/><circle cx="236.74" cy="219.14" r="1.4"/><circle cx="238.48" cy="210.12" r="1.4"/><circle cx="241.02" cy="206.01" r="1.4"/><circle cx="241.69" cy="198.9" r="1.4"/><circle cx="243.69" cy="212.69" r="1.4"/><circle cx="244.79" cy="203.55" r="1.4"/><circle cx="246.69" cy="210.09" r="1.4"/><circle cx="248.18" cy="202.99" r="1.4"/><circle cx="249.77" cy="209.42" r="1.4"/><circle cx="251.73" cy="203.18" r="1.4"/><circle cx="253.32" cy="203.11" r="1.4"/><circle cx="254.72" cy="206.01" r="1.4"/><circle cx="255.91" cy="217.43" r="1.4"/><circle cx="258.41" cy="209.16" r="1.4"/><circle cx="260.47" cy="194.85" r="1.4"/><circle cx="261.23" cy="207.18" r="1.4"/><circle cx="264.1" cy="203.31" r="1.4"/><circle cx="264.61" cy="210.91" r="1.4"/><circle cx="266.83" cy="209.62" r="1.4"/><circle cx="268.41" cy="205.71" r="1.4"/><circle cx="270.32" cy="207.91" r="1.4"/><circle cx="271.21" cy="209.78" r="1.4"/><circle cx="272.85" cy="205.83" r="1.4"/><circle cx="274.88" cy="209.34" r="1.4"/><circle cx="276.88" cy="203.03" r="1.4"/><circle cx="278.27" cy="199.98" r="1.4"/><circle cx="279.7" cy="202.74" r="1.4"/><circle cx="282.1" cy="198.19" r="1.4"/><circle cx="282.26" cy="207.49" r="1.4"/><circle cx="285.17" cy="208.9" r="1.4"/><circle cx="286.7" cy="199.41" r="1.4"/><circle cx="288.22" cy="213.71" r="1.4"/><circle cx="289.46" cy="200.64" r="1.4"/><circle cx="291.12" cy="199.59" r="1.4"/><circle cx="292.61" cy="204.21" r="1.4"/><circle cx="295.14" cy="191.81" r="1.4"/><circle cx="296.56" cy="196.69" r="1.4"/><circle cx="297.78" cy="202.6" r="1.4"/><circle cx="300.21" cy="191.16" r="1.4"/><circle cx="300.59" cy="206.63" r="1.4"/><circle cx="302.82" cy="198.75" r="1.4"/><circle cx="304.2" cy="195.43" r="1.4"/><circle cx="306.64" cy="193.24" r="1.4"/><circle cx="307.06" cy="197.7" r="1.4"/><circle cx="309.9" cy="188.76" r="1.4"/><circle cx="311.33" cy="189.85" r="1.4"/><circle cx="313.5" cy="196.46" r="1.4"/><circle cx="315.18" cy="198.02" r="1.4"/><circle cx="316.57" cy="198.87" r="1.4"/><circle cx="317.19" cy="205.09" r="1.4"/><circle cx="319.65" cy="207.05" r="1.4"/><circle cx="320.34" cy="199.73" r="1.4"/><circle cx="322.02" cy="184.97" r="1.4"/><circle cx="324.42" cy="198.6" r="1.4"/><circle cx="326.09" cy="194.02" r="1.4"/><circle cx="326.78" cy="191.51" r="1.4"/><circle cx="328.48" cy="191.99" r="1.4"/><circle cx="330.1" cy="202.66" r="1.4"/><circle cx="333.1" cy="198.37" r="1.4"/><circle cx="334.01" cy="199.2" r="1.4"/><circle cx="336.49" cy="197.43" r="1.4"/><circle cx="247.72" cy="213.42" r="1.4"/><circle cx="294.02" cy="205.77" r="1.4"/><circle cx="257.88" cy="207.39" r="1.4"/><circle cx="341.75" cy="199.28" r="1.4"/><circle cx="250.5" cy="210.45" r="1.4"/></g>
<line x1="232.83" y1="219.41" x2="349.31" y2="204.08" stroke="#4d4d4d" stroke-width="0.8"/>
<line x1="232.83" y1="211.75" x2="344.83" y2="192.39" stroke="#00BFC4" stroke-width="0.8"/>
<text x="215" y="169.8" font-size="6.0" fill="#00BFC4" fill-opacity="0.85" textLength="56.26" lengthAdjust="spacingAndGlyphs"><tspan font-style="italic">R</tspan> = 0.7, <tspan font-style="italic">p</tspan> = 1.5e-12</text>
<text x="215" y="174.4" font-size="6.0" fill="#7a7a7a" fill-opacity="0.85" textLength="59.78" lengthAdjust="spacingAndGlyphs"><tspan font-style="italic">R</tspan> = 0.68, <tspan font-style="italic">p</tspan> < 2.2e-16</text>
<text x="436.9" y="184.5" font-size="6.3" fill="#2a2a2a" textLength="45.2" lengthAdjust="spacingAndGlyphs">SAMPLE_SET</text>
<line x1="437.2" y1="192.7" x2="445" y2="192.7" stroke="#4d4d4d" stroke-width="1"/><circle cx="441.1" cy="192.7" r="1.4" fill="#4d4d4d"/>
<text x="449.9" y="194.3" font-size="5.7" fill="#2a2a2a" textLength="11.7" lengthAdjust="spacingAndGlyphs">Jung</text>
<line x1="437.2" y1="199.7" x2="445" y2="199.7" stroke="#00BFC4" stroke-width="1"/><circle cx="441.1" cy="199.7" r="1.4" fill="#00BFC4"/>
<text x="449.9" y="201.3" font-size="5.7" fill="#2a2a2a" textLength="27.9" lengthAdjust="spacingAndGlyphs">Verification</text>
<text x="28.9" y="287" font-size="6.6" font-weight="bold" fill="#1a1a1a" textLength="31.0" lengthAdjust="spacingAndGlyphs">ELOVL2</text>
<path d="M28.6 291.1V395.91H176.33" fill="none" stroke="#737373" stroke-width="0.9"/>
<text x="24.8" y="393.75" font-size="6.2" fill="#4D4D4D" text-anchor="end" textLength="3.45" lengthAdjust="spacingAndGlyphs">0</text>
<text x="24.8" y="369.8" font-size="6.2" fill="#4D4D4D" text-anchor="end" textLength="6.9" lengthAdjust="spacingAndGlyphs">25</text>
<text x="24.8" y="345.85" font-size="6.2" fill="#4D4D4D" text-anchor="end" textLength="6.9" lengthAdjust="spacingAndGlyphs">50</text>
<text x="24.8" y="321.9" font-size="6.2" fill="#4D4D4D" text-anchor="end" textLength="6.9" lengthAdjust="spacingAndGlyphs">75</text>
<text x="24.8" y="297.95" font-size="6.2" fill="#4D4D4D" text-anchor="end" textLength="10.34" lengthAdjust="spacingAndGlyphs">100</text>
<text x="57.61" y="403.4" font-size="6.6" fill="#4D4D4D" text-anchor="middle" textLength="7.71" lengthAdjust="spacingAndGlyphs">20</text>
<text x="102.41" y="403.4" font-size="6.6" fill="#4D4D4D" text-anchor="middle" textLength="7.71" lengthAdjust="spacingAndGlyphs">40</text>
<text x="147.21" y="403.4" font-size="6.6" fill="#4D4D4D" text-anchor="middle" textLength="7.71" lengthAdjust="spacingAndGlyphs">60</text>
<path d="M26 391.5H28.6M26 367.55H28.6M26 343.6H28.6M26 319.65H28.6M26 295.7H28.6M57.61 395.91V397.71M102.41 395.91V397.71M147.21 395.91V397.71" stroke="#737373" stroke-width="0.8"/>
<text x="102.46" y="411" font-size="6.5" fill="#2a2a2a" text-anchor="middle" textLength="55.7" lengthAdjust="spacingAndGlyphs">Chronological Age</text>
<text transform="translate(9.8 343.5) rotate(-90)" font-size="6.8" fill="#2a2a2a" text-anchor="middle" textLength="34.6" lengthAdjust="spacingAndGlyphs">% Methylation</text>
<g fill="#4d4d4d"><circle cx="53.93" cy="345.68" r="1.4"/><circle cx="54.41" cy="355.89" r="1.4"/><circle cx="55.15" cy="352.7" r="1.4"/><circle cx="56.94" cy="354.78" r="1.4"/><circle cx="57.56" cy="347.5" r="1.4"/><circle cx="59" cy="353.14" r="1.4"/><circle cx="59.94" cy="354.75" r="1.4"/><circle cx="60.91" cy="343.08" r="1.4"/><circle cx="61.43" cy="358.69" r="1.4"/><circle cx="62.51" cy="350.98" r="1.4"/><circle cx="64.07" cy="351.68" r="1.4"/><circle cx="64.61" cy="358.36" r="1.4"/><circle cx="65.38" cy="342.51" r="1.4"/><circle cx="66.75" cy="357.47" r="1.4"/><circle cx="67.4" cy="342.69" r="1.4"/><circle cx="68.62" cy="336.49" r="1.4"/><circle cx="70.3" cy="348.9" r="1.4"/><circle cx="71.01" cy="347.29" r="1.4"/><circle cx="71.72" cy="331.33" r="1.4"/><circle cx="72.89" cy="350.49" r="1.4"/><circle cx="74.04" cy="348.08" r="1.4"/><circle cx="75.39" cy="355.34" r="1.4"/><circle cx="75.44" cy="349.7" r="1.4"/><circle cx="76.73" cy="336.56" r="1.4"/><circle cx="78.03" cy="331.53" r="1.4"/><circle cx="78.98" cy="335.6" r="1.4"/><circle cx="79.58" cy="345.86" r="1.4"/><circle cx="80.67" cy="347.52" r="1.4"/><circle cx="81.98" cy="339.28" r="1.4"/><circle cx="83.38" cy="338.4" r="1.4"/><circle cx="84.22" cy="330.11" r="1.4"/><circle cx="84.54" cy="340.72" r="1.4"/><circle cx="85.88" cy="333.61" r="1.4"/><circle cx="86.86" cy="346.34" r="1.4"/><circle cx="87.95" cy="343.48" r="1.4"/><circle cx="89.59" cy="338.16" r="1.4"/><circle cx="89.65" cy="350.22" r="1.4"/><circle cx="91.01" cy="334.89" r="1.4"/><circle cx="92.61" cy="339.12" r="1.4"/><circle cx="93.53" cy="324.02" r="1.4"/><circle cx="94.32" cy="333.65" r="1.4"/><circle cx="95.5" cy="343.64" r="1.4"/><circle cx="96.47" cy="346.26" r="1.4"/><circle cx="97.4" cy="339.3" r="1.4"/><circle cx="98.11" cy="328.81" r="1.4"/><circle cx="98.98" cy="332.42" r="1.4"/><circle cx="100.21" cy="336.95" r="1.4"/><circle cx="100.76" cy="341.72" r="1.4"/><circle cx="101.87" cy="342.8" r="1.4"/><circle cx="103.02" cy="340.53" r="1.4"/><circle cx="104.23" cy="332.23" r="1.4"/><circle cx="105.2" cy="338.88" r="1.4"/><circle cx="106.69" cy="340.29" r="1.4"/><circle cx="107.29" cy="339.54" r="1.4"/><circle cx="108.31" cy="331.77" r="1.4"/><circle cx="109.15" cy="330.57" r="1.4"/><circle cx="110.66" cy="339.67" r="1.4"/><circle cx="111.84" cy="326.19" r="1.4"/><circle cx="112.81" cy="341.26" r="1.4"/><circle cx="113.21" cy="328.27" r="1.4"/><circle cx="114.3" cy="346.29" r="1.4"/><circle cx="115.86" cy="333.13" r="1.4"/><circle cx="116.22" cy="326.62" r="1.4"/><circle cx="117" cy="333.47" r="1.4"/><circle cx="117.98" cy="333.03" r="1.4"/><circle cx="119.69" cy="336.34" r="1.4"/><circle cx="120.34" cy="320.77" r="1.4"/><circle cx="121.05" cy="337.73" r="1.4"/><circle cx="122.2" cy="323.75" r="1.4"/><circle cx="123.44" cy="335.19" r="1.4"/><circle cx="124.82" cy="328.83" r="1.4"/><circle cx="125.52" cy="338.88" r="1.4"/><circle cx="126.16" cy="333.96" r="1.4"/><circle cx="127.7" cy="328.3" r="1.4"/><circle cx="128.69" cy="325.1" r="1.4"/><circle cx="129.19" cy="323.37" r="1.4"/><circle cx="130.21" cy="335.11" r="1.4"/><circle cx="132.03" cy="336.03" r="1.4"/><circle cx="132.77" cy="330.98" r="1.4"/><circle cx="133.99" cy="332.97" r="1.4"/><circle cx="134.24" cy="340.45" r="1.4"/><circle cx="136.09" cy="339.1" r="1.4"/><circle cx="137.09" cy="338.73" r="1.4"/><circle cx="138" cy="325.59" r="1.4"/><circle cx="138.35" cy="314.82" r="1.4"/><circle cx="139.67" cy="333.36" r="1.4"/><circle cx="141.02" cy="333.03" r="1.4"/><circle cx="141.97" cy="325.94" r="1.4"/><circle cx="142.33" cy="321.86" r="1.4"/><circle cx="143.56" cy="342.73" r="1.4"/><circle cx="145.24" cy="315.44" r="1.4"/><circle cx="145.58" cy="320.17" r="1.4"/><circle cx="147.29" cy="340.15" r="1.4"/><circle cx="147.36" cy="320" r="1.4"/><circle cx="148.42" cy="322.26" r="1.4"/><circle cx="149.89" cy="334.52" r="1.4"/><circle cx="150.4" cy="322.66" r="1.4"/><circle cx="151.43" cy="319.69" r="1.4"/><circle cx="153.4" cy="323.36" r="1.4"/><circle cx="154.11" cy="340.17" r="1.4"/><circle cx="154.76" cy="314.98" r="1.4"/><circle cx="155.54" cy="319.31" r="1.4"/><circle cx="104.08" cy="334.55" r="1.4"/><circle cx="157.98" cy="322.62" r="1.4"/><circle cx="159" cy="324.32" r="1.4"/><circle cx="76.11" cy="339.91" r="1.4"/><circle cx="146.95" cy="329.98" r="1.4"/><circle cx="161.83" cy="320.93" r="1.4"/><circle cx="111.75" cy="332.78" r="1.4"/><circle cx="94.09" cy="333.81" r="1.4"/><circle cx="121.35" cy="334.72" r="1.4"/><circle cx="166.37" cy="331.21" r="1.4"/><circle cx="70.04" cy="349.81" r="1.4"/><circle cx="167.64" cy="326.15" r="1.4"/><circle cx="169.36" cy="321.8" r="1.4"/><circle cx="129.29" cy="295.7" r="1.4"/></g>
<g fill="#F8766D"><circle cx="53.7" cy="361.63" r="1.4"/><circle cx="54.73" cy="368.53" r="1.4"/><circle cx="56.59" cy="360.99" r="1.4"/><circle cx="58.67" cy="353.54" r="1.4"/><circle cx="60.08" cy="359.65" r="1.4"/><circle cx="62.03" cy="354.6" r="1.4"/><circle cx="63.49" cy="359.14" r="1.4"/><circle cx="64.2" cy="343.81" r="1.4"/><circle cx="65.65" cy="345.29" r="1.4"/><circle cx="68.56" cy="355.18" r="1.4"/><circle cx="69.82" cy="363.49" r="1.4"/><circle cx="71.25" cy="355.92" r="1.4"/><circle cx="72.11" cy="348.21" r="1.4"/><circle cx="74.69" cy="351.77" r="1.4"/><circle cx="75.24" cy="363.4" r="1.4"/><circle cx="77.38" cy="353.2" r="1.4"/><circle cx="79.18" cy="342.26" r="1.4"/><circle cx="81.12" cy="354.18" r="1.4"/><circle cx="82.34" cy="360.02" r="1.4"/><circle cx="82.83" cy="352.69" r="1.4"/><circle cx="84.81" cy="351.79" r="1.4"/><circle cx="85.98" cy="349.35" r="1.4"/><circle cx="88.78" cy="350.35" r="1.4"/><circle cx="90.38" cy="359.49" r="1.4"/><circle cx="90.54" cy="345.18" r="1.4"/><circle cx="92.23" cy="346.86" r="1.4"/><circle cx="93.58" cy="348.53" r="1.4"/><circle cx="96.42" cy="341.37" r="1.4"/><circle cx="97.11" cy="343.73" r="1.4"/><circle cx="98.45" cy="350.58" r="1.4"/><circle cx="101.31" cy="344.87" r="1.4"/><circle cx="101.95" cy="352.63" r="1.4"/><circle cx="103.88" cy="350.09" r="1.4"/><circle cx="105.21" cy="346.02" r="1.4"/><circle cx="107.4" cy="341.96" r="1.4"/><circle cx="107.87" cy="354.84" r="1.4"/><circle cx="110.02" cy="341.04" r="1.4"/><circle cx="112.16" cy="341.29" r="1.4"/><circle cx="112.43" cy="350.17" r="1.4"/><circle cx="114.72" cy="354.43" r="1.4"/><circle cx="116.18" cy="340.89" r="1.4"/><circle cx="117.99" cy="339.85" r="1.4"/><circle cx="119.77" cy="347.83" r="1.4"/><circle cx="121.42" cy="334.11" r="1.4"/><circle cx="122.93" cy="330.37" r="1.4"/><circle cx="124.46" cy="342.9" r="1.4"/><circle cx="124.89" cy="336.76" r="1.4"/><circle cx="126.82" cy="336.65" r="1.4"/><circle cx="127.8" cy="344.05" r="1.4"/><circle cx="129.82" cy="332.24" r="1.4"/><circle cx="132.1" cy="334.64" r="1.4"/><circle cx="133.9" cy="333.38" r="1.4"/><circle cx="134.21" cy="335.07" r="1.4"/><circle cx="136.99" cy="333.72" r="1.4"/><circle cx="138.61" cy="342.86" r="1.4"/><circle cx="139.49" cy="335.58" r="1.4"/><circle cx="140.81" cy="342.9" r="1.4"/><circle cx="143.34" cy="331.49" r="1.4"/><circle cx="144.7" cy="341.78" r="1.4"/><circle cx="145.92" cy="334.38" r="1.4"/><circle cx="146.67" cy="336.85" r="1.4"/><circle cx="148.19" cy="341.73" r="1.4"/><circle cx="149.81" cy="339.52" r="1.4"/><circle cx="151.91" cy="337.26" r="1.4"/><circle cx="118.66" cy="351.35" r="1.4"/><circle cx="154.43" cy="327.73" r="1.4"/><circle cx="157.22" cy="324.28" r="1.4"/><circle cx="137.84" cy="337.56" r="1.4"/><circle cx="98.03" cy="353.85" r="1.4"/><circle cx="125.47" cy="332.41" r="1.4"/><circle cx="163.44" cy="331.89" r="1.4"/><circle cx="56.07" cy="352.11" r="1.4"/><circle cx="73.29" cy="364.68" r="1.4"/></g>
<line x1="53.13" y1="349.25" x2="169.61" y2="320.99" stroke="#4d4d4d" stroke-width="0.8"/>
<line x1="53.13" y1="359.22" x2="165.13" y2="330" stroke="#F8766D" stroke-width="0.8"/>
<text x="35.3" y="312" font-size="6.0" fill="#F8766D" fill-opacity="0.85" textLength="59.78" lengthAdjust="spacingAndGlyphs"><tspan font-style="italic">R</tspan> = 0.78, <tspan font-style="italic">p</tspan> = 1.6e-15</text>
<text x="35.3" y="316.6" font-size="6.0" fill="#7a7a7a" fill-opacity="0.85" textLength="59.78" lengthAdjust="spacingAndGlyphs"><tspan font-style="italic">R</tspan> = 0.68, <tspan font-style="italic">p</tspan> < 2.2e-16</text>
<text x="208.6" y="287" font-size="6.6" font-weight="bold" fill="#1a1a1a" textLength="19.6" lengthAdjust="spacingAndGlyphs">FHL2</text>
<path d="M208.3 291.1V395.91H356.03" fill="none" stroke="#737373" stroke-width="0.9"/>
<text x="204.5" y="393.75" font-size="6.2" fill="#4D4D4D" text-anchor="end" textLength="3.45" lengthAdjust="spacingAndGlyphs">0</text>
<text x="204.5" y="369.8" font-size="6.2" fill="#4D4D4D" text-anchor="end" textLength="6.9" lengthAdjust="spacingAndGlyphs">25</text>
<text x="204.5" y="345.85" font-size="6.2" fill="#4D4D4D" text-anchor="end" textLength="6.9" lengthAdjust="spacingAndGlyphs">50</text>
<text x="204.5" y="321.9" font-size="6.2" fill="#4D4D4D" text-anchor="end" textLength="6.9" lengthAdjust="spacingAndGlyphs">75</text>
<text x="204.5" y="297.95" font-size="6.2" fill="#4D4D4D" text-anchor="end" textLength="10.34" lengthAdjust="spacingAndGlyphs">100</text>
<text x="237.31" y="403.4" font-size="6.6" fill="#4D4D4D" text-anchor="middle" textLength="7.71" lengthAdjust="spacingAndGlyphs">20</text>
<text x="282.11" y="403.4" font-size="6.6" fill="#4D4D4D" text-anchor="middle" textLength="7.71" lengthAdjust="spacingAndGlyphs">40</text>
<text x="326.91" y="403.4" font-size="6.6" fill="#4D4D4D" text-anchor="middle" textLength="7.71" lengthAdjust="spacingAndGlyphs">60</text>
<path d="M205.7 391.5H208.3M205.7 367.55H208.3M205.7 343.6H208.3M205.7 319.65H208.3M205.7 295.7H208.3M237.31 395.91V397.71M282.11 395.91V397.71M326.91 395.91V397.71" stroke="#737373" stroke-width="0.8"/>
<text x="282.16" y="411" font-size="6.5" fill="#2a2a2a" text-anchor="middle" textLength="55.7" lengthAdjust="spacingAndGlyphs">Chronological Age</text>
<text transform="translate(189.5 343.5) rotate(-90)" font-size="6.8" fill="#2a2a2a" text-anchor="middle" textLength="34.6" lengthAdjust="spacingAndGlyphs">% Methylation</text>
<g fill="#4d4d4d"><circle cx="233.17" cy="379.45" r="1.4"/><circle cx="233.96" cy="376.78" r="1.4"/><circle cx="235.51" cy="386.36" r="1.4"/><circle cx="236.54" cy="383.26" r="1.4"/><circle cx="237.1" cy="386.62" r="1.4"/><circle cx="238.22" cy="383.78" r="1.4"/><circle cx="239.63" cy="382.87" r="1.4"/><circle cx="240.48" cy="386.58" r="1.4"/><circle cx="241.96" cy="374.38" r="1.4"/><circle cx="242.78" cy="386.11" r="1.4"/><circle cx="244.45" cy="368.43" r="1.4"/><circle cx="244.78" cy="379.24" r="1.4"/><circle cx="245.69" cy="378.53" r="1.4"/><circle cx="247.46" cy="378.64" r="1.4"/><circle cx="247.84" cy="389.1" r="1.4"/><circle cx="249.11" cy="386.46" r="1.4"/><circle cx="250.35" cy="380.27" r="1.4"/><circle cx="251.05" cy="381.78" r="1.4"/><circle cx="252.61" cy="386.36" r="1.4"/><circle cx="253.57" cy="379.18" r="1.4"/><circle cx="254.49" cy="385" r="1.4"/><circle cx="255.81" cy="367.04" r="1.4"/><circle cx="256.38" cy="387.36" r="1.4"/><circle cx="258.11" cy="384.51" r="1.4"/><circle cx="259.01" cy="384.93" r="1.4"/><circle cx="259.43" cy="360.49" r="1.4"/><circle cx="260.8" cy="381.15" r="1.4"/><circle cx="261.94" cy="384.09" r="1.4"/><circle cx="262.52" cy="385.33" r="1.4"/><circle cx="264.14" cy="388.41" r="1.4"/><circle cx="265.52" cy="383.73" r="1.4"/><circle cx="266.28" cy="366.85" r="1.4"/><circle cx="267.33" cy="389.95" r="1.4"/><circle cx="268.77" cy="375.03" r="1.4"/><circle cx="269.33" cy="380.98" r="1.4"/><circle cx="270.63" cy="381.43" r="1.4"/><circle cx="271.63" cy="361.17" r="1.4"/><circle cx="272.31" cy="379.98" r="1.4"/><circle cx="273.48" cy="379.93" r="1.4"/><circle cx="274.61" cy="380.2" r="1.4"/><circle cx="275.36" cy="376.42" r="1.4"/><circle cx="277.06" cy="376.38" r="1.4"/><circle cx="277.44" cy="378.58" r="1.4"/><circle cx="279.28" cy="368.03" r="1.4"/><circle cx="279.51" cy="385.16" r="1.4"/><circle cx="281.41" cy="373.9" r="1.4"/><circle cx="282.41" cy="372.29" r="1.4"/><circle cx="283.04" cy="381.35" r="1.4"/><circle cx="284.04" cy="357.47" r="1.4"/><circle cx="284.87" cy="387.28" r="1.4"/><circle cx="285.96" cy="376.47" r="1.4"/><circle cx="287.35" cy="369.2" r="1.4"/><circle cx="288.52" cy="377.01" r="1.4"/><circle cx="289.39" cy="375.82" r="1.4"/><circle cx="290.4" cy="390.26" r="1.4"/><circle cx="291.8" cy="382.51" r="1.4"/><circle cx="292.67" cy="383.06" r="1.4"/><circle cx="293.24" cy="382.39" r="1.4"/><circle cx="295.2" cy="371.52" r="1.4"/><circle cx="296.15" cy="388.18" r="1.4"/><circle cx="296.78" cy="377.99" r="1.4"/><circle cx="298.09" cy="372.2" r="1.4"/><circle cx="298.55" cy="368.07" r="1.4"/><circle cx="299.71" cy="371.87" r="1.4"/><circle cx="300.96" cy="374.74" r="1.4"/><circle cx="301.82" cy="374.76" r="1.4"/><circle cx="302.82" cy="375.64" r="1.4"/><circle cx="304.7" cy="372.3" r="1.4"/><circle cx="305.48" cy="368.75" r="1.4"/><circle cx="306.26" cy="366.67" r="1.4"/><circle cx="307.34" cy="356.89" r="1.4"/><circle cx="309.06" cy="356.92" r="1.4"/><circle cx="309.56" cy="376.42" r="1.4"/><circle cx="310.24" cy="372.96" r="1.4"/><circle cx="311.55" cy="374.46" r="1.4"/><circle cx="312.42" cy="349.62" r="1.4"/><circle cx="313.33" cy="358.24" r="1.4"/><circle cx="314.52" cy="375.36" r="1.4"/><circle cx="316" cy="357.11" r="1.4"/><circle cx="317.52" cy="369.66" r="1.4"/><circle cx="318.45" cy="373.99" r="1.4"/><circle cx="318.99" cy="377.24" r="1.4"/><circle cx="319.84" cy="369.75" r="1.4"/><circle cx="321.54" cy="380.35" r="1.4"/><circle cx="322.13" cy="367.53" r="1.4"/><circle cx="323.88" cy="347.35" r="1.4"/><circle cx="324.8" cy="362.65" r="1.4"/><circle cx="325.74" cy="383.56" r="1.4"/><circle cx="326.25" cy="377.7" r="1.4"/><circle cx="327.1" cy="371.56" r="1.4"/><circle cx="328.16" cy="371.68" r="1.4"/><circle cx="329.92" cy="359.92" r="1.4"/><circle cx="331.26" cy="386.65" r="1.4"/><circle cx="332.35" cy="359.36" r="1.4"/><circle cx="333.38" cy="373.29" r="1.4"/><circle cx="333.66" cy="362.36" r="1.4"/><circle cx="334.69" cy="364.05" r="1.4"/><circle cx="282.23" cy="363.69" r="1.4"/><circle cx="241.56" cy="389.51" r="1.4"/><circle cx="282.08" cy="388.62" r="1.4"/><circle cx="267.09" cy="372.28" r="1.4"/><circle cx="330.39" cy="387.29" r="1.4"/><circle cx="341.6" cy="362.72" r="1.4"/><circle cx="247.89" cy="379.99" r="1.4"/><circle cx="300.55" cy="379.78" r="1.4"/><circle cx="344.15" cy="353.2" r="1.4"/><circle cx="287.09" cy="366.51" r="1.4"/><circle cx="254.57" cy="384.44" r="1.4"/><circle cx="347.46" cy="366.39" r="1.4"/><circle cx="246.33" cy="372.63" r="1.4"/><circle cx="237.31" cy="391.5" r="1.4"/><circle cx="241.79" cy="391.5" r="1.4"/><circle cx="244.03" cy="391.5" r="1.4"/><circle cx="246.27" cy="391.5" r="1.4"/><circle cx="248.51" cy="391.5" r="1.4"/><circle cx="252.99" cy="391.5" r="1.4"/><circle cx="259.71" cy="391.5" r="1.4"/><circle cx="264.19" cy="391.5" r="1.4"/><circle cx="270.91" cy="391.5" r="1.4"/><circle cx="277.63" cy="391.5" r="1.4"/><circle cx="304.51" cy="391.5" r="1.4"/><circle cx="340.35" cy="391.5" r="1.4"/><circle cx="297.79" cy="347.43" r="1.4"/><circle cx="326.91" cy="348.39" r="1.4"/><circle cx="349.31" cy="357.97" r="1.4"/><circle cx="232.83" cy="369.47" r="1.4"/></g>
<g fill="#F8766D"><circle cx="234.24" cy="385.03" r="1.4"/><circle cx="235.29" cy="378.19" r="1.4"/><circle cx="237.35" cy="388.63" r="1.4"/><circle cx="238.28" cy="376.45" r="1.4"/><circle cx="239.88" cy="382.61" r="1.4"/><circle cx="241.29" cy="381.81" r="1.4"/><circle cx="242.45" cy="371.25" r="1.4"/><circle cx="243.98" cy="380.99" r="1.4"/><circle cx="246.01" cy="381.63" r="1.4"/><circle cx="247.34" cy="385.41" r="1.4"/><circle cx="249.19" cy="386.69" r="1.4"/><circle cx="250.1" cy="382.52" r="1.4"/><circle cx="252.37" cy="379.76" r="1.4"/><circle cx="254.25" cy="374.13" r="1.4"/><circle cx="255.4" cy="385.77" r="1.4"/><circle cx="257.58" cy="381.63" r="1.4"/><circle cx="258.41" cy="382.64" r="1.4"/><circle cx="260.07" cy="381.85" r="1.4"/><circle cx="261.91" cy="383.43" r="1.4"/><circle cx="263.13" cy="375.28" r="1.4"/><circle cx="265.4" cy="380.53" r="1.4"/><circle cx="266.96" cy="386.43" r="1.4"/><circle cx="267.45" cy="387.75" r="1.4"/><circle cx="269.91" cy="381.03" r="1.4"/><circle cx="270.37" cy="370.55" r="1.4"/><circle cx="271.83" cy="370.47" r="1.4"/><circle cx="273.65" cy="365.27" r="1.4"/><circle cx="276.05" cy="370.23" r="1.4"/><circle cx="277.78" cy="367.83" r="1.4"/><circle cx="278.97" cy="364.01" r="1.4"/><circle cx="279.72" cy="358.36" r="1.4"/><circle cx="281.39" cy="384.3" r="1.4"/><circle cx="284.09" cy="379.47" r="1.4"/><circle cx="285.7" cy="367.8" r="1.4"/><circle cx="287.01" cy="368.69" r="1.4"/><circle cx="288.07" cy="365.29" r="1.4"/><circle cx="289.36" cy="370.7" r="1.4"/><circle cx="291.51" cy="365.2" r="1.4"/><circle cx="291.97" cy="378.99" r="1.4"/><circle cx="293.52" cy="374.87" r="1.4"/><circle cx="295.57" cy="377.56" r="1.4"/><circle cx="296.71" cy="377.34" r="1.4"/><circle cx="299.69" cy="365.18" r="1.4"/><circle cx="299.88" cy="386.08" r="1.4"/><circle cx="301.69" cy="353.91" r="1.4"/><circle cx="303.25" cy="366.58" r="1.4"/><circle cx="304.59" cy="383.47" r="1.4"/><circle cx="307.21" cy="359.25" r="1.4"/><circle cx="307.9" cy="355.91" r="1.4"/><circle cx="309.94" cy="350.04" r="1.4"/><circle cx="311.7" cy="366.37" r="1.4"/><circle cx="313.23" cy="367.28" r="1.4"/><circle cx="314.38" cy="345.12" r="1.4"/><circle cx="316.26" cy="356.92" r="1.4"/><circle cx="318.07" cy="348.72" r="1.4"/><circle cx="318.49" cy="356.92" r="1.4"/><circle cx="321.28" cy="374.33" r="1.4"/><circle cx="322.35" cy="364.66" r="1.4"/><circle cx="324.49" cy="367.85" r="1.4"/><circle cx="325.43" cy="360.87" r="1.4"/><circle cx="326.53" cy="361.43" r="1.4"/><circle cx="327.8" cy="362.18" r="1.4"/><circle cx="329.59" cy="369.02" r="1.4"/><circle cx="332.01" cy="356.09" r="1.4"/><circle cx="333.16" cy="366.78" r="1.4"/><circle cx="334.33" cy="363.69" r="1.4"/><circle cx="251.5" cy="388.63" r="1.4"/><circle cx="275.42" cy="372.78" r="1.4"/><circle cx="271.57" cy="384.01" r="1.4"/><circle cx="341.69" cy="364.98" r="1.4"/><circle cx="295.51" cy="377.02" r="1.4"/><circle cx="343.36" cy="357.09" r="1.4"/></g>
<line x1="232.83" y1="385.85" x2="349.31" y2="367.26" stroke="#4d4d4d" stroke-width="0.8"/>
<line x1="232.83" y1="383.17" x2="344.83" y2="363.91" stroke="#F8766D" stroke-width="0.8"/>
<text x="215" y="312" font-size="6.0" fill="#F8766D" fill-opacity="0.85" textLength="56.26" lengthAdjust="spacingAndGlyphs"><tspan font-style="italic">R</tspan> = 0.5, <tspan font-style="italic">p</tspan> = 5.8e-06</text>
<text x="215" y="316.6" font-size="6.0" fill="#7a7a7a" fill-opacity="0.85" textLength="59.78" lengthAdjust="spacingAndGlyphs"><tspan font-style="italic">R</tspan> = 0.46, <tspan font-style="italic">p</tspan> = 6.2e-09</text>
<text x="387.9" y="287" font-size="6.6" font-weight="bold" fill="#1a1a1a" textLength="23.9" lengthAdjust="spacingAndGlyphs">KLF14</text>
<path d="M387.6 291.1V395.91H535.33" fill="none" stroke="#737373" stroke-width="0.9"/>
<text x="383.8" y="393.75" font-size="6.2" fill="#4D4D4D" text-anchor="end" textLength="3.45" lengthAdjust="spacingAndGlyphs">0</text>
<text x="383.8" y="369.8" font-size="6.2" fill="#4D4D4D" text-anchor="end" textLength="6.9" lengthAdjust="spacingAndGlyphs">25</text>
<text x="383.8" y="345.85" font-size="6.2" fill="#4D4D4D" text-anchor="end" textLength="6.9" lengthAdjust="spacingAndGlyphs">50</text>
<text x="383.8" y="321.9" font-size="6.2" fill="#4D4D4D" text-anchor="end" textLength="6.9" lengthAdjust="spacingAndGlyphs">75</text>
<text x="383.8" y="297.95" font-size="6.2" fill="#4D4D4D" text-anchor="end" textLength="10.34" lengthAdjust="spacingAndGlyphs">100</text>
<text x="416.61" y="403.4" font-size="6.6" fill="#4D4D4D" text-anchor="middle" textLength="7.71" lengthAdjust="spacingAndGlyphs">20</text>
<text x="461.41" y="403.4" font-size="6.6" fill="#4D4D4D" text-anchor="middle" textLength="7.71" lengthAdjust="spacingAndGlyphs">40</text>
<text x="506.21" y="403.4" font-size="6.6" fill="#4D4D4D" text-anchor="middle" textLength="7.71" lengthAdjust="spacingAndGlyphs">60</text>
<path d="M385 391.5H387.6M385 367.55H387.6M385 343.6H387.6M385 319.65H387.6M385 295.7H387.6M416.61 395.91V397.71M461.41 395.91V397.71M506.21 395.91V397.71" stroke="#737373" stroke-width="0.8"/>
<text x="461.46" y="411" font-size="6.5" fill="#2a2a2a" text-anchor="middle" textLength="55.7" lengthAdjust="spacingAndGlyphs">Chronological Age</text>
<text transform="translate(368.8 343.5) rotate(-90)" font-size="6.8" fill="#2a2a2a" text-anchor="middle" textLength="34.6" lengthAdjust="spacingAndGlyphs">% Methylation</text>
<g fill="#4d4d4d"><circle cx="412.36" cy="384.93" r="1.4"/><circle cx="413.85" cy="386.52" r="1.4"/><circle cx="414.24" cy="385.93" r="1.4"/><circle cx="415.38" cy="379.2" r="1.4"/><circle cx="416.83" cy="388.86" r="1.4"/><circle cx="417.69" cy="384.76" r="1.4"/><circle cx="418.4" cy="384.86" r="1.4"/><circle cx="419.46" cy="386.46" r="1.4"/><circle cx="420.25" cy="385.53" r="1.4"/><circle cx="422.16" cy="381.83" r="1.4"/><circle cx="422.64" cy="383.07" r="1.4"/><circle cx="424.27" cy="383.05" r="1.4"/><circle cx="424.35" cy="386.77" r="1.4"/><circle cx="425.96" cy="386.42" r="1.4"/><circle cx="426.65" cy="385.57" r="1.4"/><circle cx="427.98" cy="387.48" r="1.4"/><circle cx="429.25" cy="385.38" r="1.4"/><circle cx="429.41" cy="384.69" r="1.4"/><circle cx="431.32" cy="385.64" r="1.4"/><circle cx="432.33" cy="383.25" r="1.4"/><circle cx="432.97" cy="384.18" r="1.4"/><circle cx="433.69" cy="389.8" r="1.4"/><circle cx="434.77" cy="381.77" r="1.4"/><circle cx="436.2" cy="384.04" r="1.4"/><circle cx="436.54" cy="384.64" r="1.4"/><circle cx="438.41" cy="387.27" r="1.4"/><circle cx="439.32" cy="384.56" r="1.4"/><circle cx="439.63" cy="382.36" r="1.4"/><circle cx="441.02" cy="383.38" r="1.4"/><circle cx="442.42" cy="381.97" r="1.4"/><circle cx="443.03" cy="382.52" r="1.4"/><circle cx="443.77" cy="383.97" r="1.4"/><circle cx="444.55" cy="383.05" r="1.4"/><circle cx="445.98" cy="379.1" r="1.4"/><circle cx="446.95" cy="377.54" r="1.4"/><circle cx="447.76" cy="387.38" r="1.4"/><circle cx="448.99" cy="378.32" r="1.4"/><circle cx="450.59" cy="376.19" r="1.4"/><circle cx="450.82" cy="380.32" r="1.4"/><circle cx="451.64" cy="383.47" r="1.4"/><circle cx="453.42" cy="381.43" r="1.4"/><circle cx="454.1" cy="378.32" r="1.4"/><circle cx="454.9" cy="383.3" r="1.4"/><circle cx="456.1" cy="377.75" r="1.4"/><circle cx="457.29" cy="380.05" r="1.4"/><circle cx="457.79" cy="378.01" r="1.4"/><circle cx="458.83" cy="382.84" r="1.4"/><circle cx="460.55" cy="379.63" r="1.4"/><circle cx="461.26" cy="381.75" r="1.4"/><circle cx="461.82" cy="387.47" r="1.4"/><circle cx="462.79" cy="376.51" r="1.4"/><circle cx="464.37" cy="375.75" r="1.4"/><circle cx="465.55" cy="384.21" r="1.4"/><circle cx="465.81" cy="370.57" r="1.4"/><circle cx="467.67" cy="376.19" r="1.4"/><circle cx="467.87" cy="370.59" r="1.4"/><circle cx="469.83" cy="377.1" r="1.4"/><circle cx="470.45" cy="386.51" r="1.4"/><circle cx="471.05" cy="373.53" r="1.4"/><circle cx="471.97" cy="378.25" r="1.4"/><circle cx="473.51" cy="381.63" r="1.4"/><circle cx="474.07" cy="377.07" r="1.4"/><circle cx="475.05" cy="380.76" r="1.4"/><circle cx="476.07" cy="378.95" r="1.4"/><circle cx="477.4" cy="377.61" r="1.4"/><circle cx="478.44" cy="382.71" r="1.4"/><circle cx="479.38" cy="378.18" r="1.4"/><circle cx="480.19" cy="374.04" r="1.4"/><circle cx="481.46" cy="371.03" r="1.4"/><circle cx="482.73" cy="371.78" r="1.4"/><circle cx="483.65" cy="371.9" r="1.4"/><circle cx="484.48" cy="375.04" r="1.4"/><circle cx="485.15" cy="368.79" r="1.4"/><circle cx="486.58" cy="376.66" r="1.4"/><circle cx="487.79" cy="374.19" r="1.4"/><circle cx="488.63" cy="372.13" r="1.4"/><circle cx="489.86" cy="375.08" r="1.4"/><circle cx="490.74" cy="375.04" r="1.4"/><circle cx="492.05" cy="374.86" r="1.4"/><circle cx="493.14" cy="383.93" r="1.4"/><circle cx="493.38" cy="375.78" r="1.4"/><circle cx="495.16" cy="368.88" r="1.4"/><circle cx="495.56" cy="366.21" r="1.4"/><circle cx="496.72" cy="376.75" r="1.4"/><circle cx="497.84" cy="366.37" r="1.4"/><circle cx="498.52" cy="375.49" r="1.4"/><circle cx="500.09" cy="371.87" r="1.4"/><circle cx="501.22" cy="369.16" r="1.4"/><circle cx="502.12" cy="374.32" r="1.4"/><circle cx="502.89" cy="369.49" r="1.4"/><circle cx="504.14" cy="376.78" r="1.4"/><circle cx="505.04" cy="381.97" r="1.4"/><circle cx="506.14" cy="375.66" r="1.4"/><circle cx="506.76" cy="374.83" r="1.4"/><circle cx="507.83" cy="380.45" r="1.4"/><circle cx="508.62" cy="373.52" r="1.4"/><circle cx="509.43" cy="372.23" r="1.4"/><circle cx="510.8" cy="375.21" r="1.4"/><circle cx="511.51" cy="369.82" r="1.4"/><circle cx="512.7" cy="374.55" r="1.4"/><circle cx="514.23" cy="374.81" r="1.4"/><circle cx="449.36" cy="380.92" r="1.4"/><circle cx="489.14" cy="374.89" r="1.4"/><circle cx="450.04" cy="374.34" r="1.4"/><circle cx="452.1" cy="383.9" r="1.4"/><circle cx="493.14" cy="380.34" r="1.4"/><circle cx="482.71" cy="372.02" r="1.4"/><circle cx="507.47" cy="369.58" r="1.4"/><circle cx="501.26" cy="375.27" r="1.4"/><circle cx="500.65" cy="376.29" r="1.4"/><circle cx="524.21" cy="365.55" r="1.4"/><circle cx="445.03" cy="387.02" r="1.4"/><circle cx="525.87" cy="372.06" r="1.4"/><circle cx="447.99" cy="377.34" r="1.4"/><circle cx="527.76" cy="373.01" r="1.4"/><circle cx="412.13" cy="391.5" r="1.4"/><circle cx="416.61" cy="391.5" r="1.4"/><circle cx="418.85" cy="391.5" r="1.4"/><circle cx="421.09" cy="391.5" r="1.4"/><circle cx="423.33" cy="391.5" r="1.4"/><circle cx="427.81" cy="391.5" r="1.4"/><circle cx="430.05" cy="391.5" r="1.4"/><circle cx="432.29" cy="391.5" r="1.4"/><circle cx="436.77" cy="391.5" r="1.4"/><circle cx="439.01" cy="391.5" r="1.4"/><circle cx="441.25" cy="391.5" r="1.4"/><circle cx="443.49" cy="391.5" r="1.4"/><circle cx="445.73" cy="391.5" r="1.4"/><circle cx="450.21" cy="391.5" r="1.4"/><circle cx="463.65" cy="391.5" r="1.4"/><circle cx="472.61" cy="391.5" r="1.4"/><circle cx="479.33" cy="391.5" r="1.4"/><circle cx="488.29" cy="391.5" r="1.4"/><circle cx="506.21" cy="351.26" r="1.4"/><circle cx="506.21" cy="356.05" r="1.4"/><circle cx="497.25" cy="360.84" r="1.4"/><circle cx="488.29" cy="368.51" r="1.4"/></g>
<g fill="#F8766D"><circle cx="413.16" cy="386.42" r="1.4"/><circle cx="413.58" cy="387.68" r="1.4"/><circle cx="415" cy="385.92" r="1.4"/><circle cx="417.07" cy="387.1" r="1.4"/><circle cx="418.13" cy="387.12" r="1.4"/><circle cx="419.69" cy="386.07" r="1.4"/><circle cx="420.46" cy="389.58" r="1.4"/><circle cx="422.51" cy="387.45" r="1.4"/><circle cx="423.41" cy="389.58" r="1.4"/><circle cx="425.22" cy="381.46" r="1.4"/><circle cx="425.48" cy="387.04" r="1.4"/><circle cx="427.05" cy="388.03" r="1.4"/><circle cx="428.94" cy="385.84" r="1.4"/><circle cx="429.34" cy="384.18" r="1.4"/><circle cx="431.38" cy="388.48" r="1.4"/><circle cx="432.44" cy="383.42" r="1.4"/><circle cx="434.39" cy="387.37" r="1.4"/><circle cx="435.74" cy="388.46" r="1.4"/><circle cx="436.49" cy="389.58" r="1.4"/><circle cx="437.65" cy="384.22" r="1.4"/><circle cx="438.89" cy="388.18" r="1.4"/><circle cx="440.69" cy="386.82" r="1.4"/><circle cx="442.22" cy="385.26" r="1.4"/><circle cx="443.09" cy="382.45" r="1.4"/><circle cx="444.99" cy="385.72" r="1.4"/><circle cx="445.45" cy="384.56" r="1.4"/><circle cx="447.4" cy="382.11" r="1.4"/><circle cx="448.79" cy="385.6" r="1.4"/><circle cx="449.54" cy="385.77" r="1.4"/><circle cx="450.39" cy="388.7" r="1.4"/><circle cx="452.11" cy="380.39" r="1.4"/><circle cx="453.9" cy="385.36" r="1.4"/><circle cx="455.2" cy="385.2" r="1.4"/><circle cx="455.72" cy="382.97" r="1.4"/><circle cx="457.1" cy="381.22" r="1.4"/><circle cx="459.52" cy="386.91" r="1.4"/><circle cx="460.83" cy="382.25" r="1.4"/><circle cx="461.02" cy="383.07" r="1.4"/><circle cx="462.99" cy="383.58" r="1.4"/><circle cx="464.38" cy="381.21" r="1.4"/><circle cx="466.08" cy="383.5" r="1.4"/><circle cx="467.01" cy="384.66" r="1.4"/><circle cx="467.78" cy="382.94" r="1.4"/><circle cx="469.27" cy="384.33" r="1.4"/><circle cx="471.17" cy="380.94" r="1.4"/><circle cx="471.92" cy="383.24" r="1.4"/><circle cx="472.93" cy="383.17" r="1.4"/><circle cx="474.99" cy="380.9" r="1.4"/><circle cx="475.42" cy="383.78" r="1.4"/><circle cx="477" cy="383.78" r="1.4"/><circle cx="478.75" cy="380.41" r="1.4"/><circle cx="479.73" cy="384.61" r="1.4"/><circle cx="481.68" cy="385.26" r="1.4"/><circle cx="482.94" cy="383.4" r="1.4"/><circle cx="484.39" cy="382.6" r="1.4"/><circle cx="484.98" cy="379.94" r="1.4"/><circle cx="486.75" cy="383.45" r="1.4"/><circle cx="487.89" cy="382.58" r="1.4"/><circle cx="489.31" cy="383.02" r="1.4"/><circle cx="490.84" cy="383.17" r="1.4"/><circle cx="491.79" cy="378.51" r="1.4"/><circle cx="493.12" cy="383.11" r="1.4"/><circle cx="494.76" cy="378.71" r="1.4"/><circle cx="495.37" cy="377.96" r="1.4"/><circle cx="496.57" cy="377.02" r="1.4"/><circle cx="498.82" cy="380.27" r="1.4"/><circle cx="499.93" cy="381.94" r="1.4"/><circle cx="500.74" cy="379.02" r="1.4"/><circle cx="501.88" cy="381.16" r="1.4"/><circle cx="503.09" cy="380.3" r="1.4"/><circle cx="504.78" cy="381.45" r="1.4"/><circle cx="506.97" cy="379.97" r="1.4"/><circle cx="507.76" cy="383.46" r="1.4"/><circle cx="509.16" cy="375.06" r="1.4"/><circle cx="510.07" cy="379.05" r="1.4"/><circle cx="501.94" cy="374.57" r="1.4"/><circle cx="459.59" cy="383.87" r="1.4"/><circle cx="508.9" cy="377.36" r="1.4"/><circle cx="515.1" cy="380.31" r="1.4"/><circle cx="477.67" cy="384.1" r="1.4"/><circle cx="518.41" cy="375.94" r="1.4"/><circle cx="519.77" cy="377.62" r="1.4"/><circle cx="434.36" cy="386" r="1.4"/><circle cx="438.06" cy="389.04" r="1.4"/><circle cx="523.35" cy="378.61" r="1.4"/></g>
<line x1="412.13" y1="386.42" x2="528.61" y2="368.99" stroke="#4d4d4d" stroke-width="0.8"/>
<line x1="412.13" y1="388.15" x2="524.13" y2="378.09" stroke="#F8766D" stroke-width="0.8"/>
<text x="394.3" y="312" font-size="6.0" fill="#F8766D" fill-opacity="0.85" textLength="59.78" lengthAdjust="spacingAndGlyphs"><tspan font-style="italic">R</tspan> = 0.73, <tspan font-style="italic">p</tspan> = 1.5e-13</text>
<text x="394.3" y="316.6" font-size="6.0" fill="#7a7a7a" fill-opacity="0.85" textLength="59.78" lengthAdjust="spacingAndGlyphs"><tspan font-style="italic">R</tspan> = 0.71, <tspan font-style="italic">p</tspan> < 2.2e-16</text>
<text x="28.9" y="422.1" font-size="6.6" font-weight="bold" fill="#1a1a1a" textLength="41.6" lengthAdjust="spacingAndGlyphs">MIR29B2C</text>
<path d="M28.6 426.22V530.69H176.33" fill="none" stroke="#737373" stroke-width="0.9"/>
<text x="24.8" y="528.55" font-size="6.2" fill="#4D4D4D" text-anchor="end" textLength="3.45" lengthAdjust="spacingAndGlyphs">0</text>
<text x="24.8" y="504.67" font-size="6.2" fill="#4D4D4D" text-anchor="end" textLength="6.9" lengthAdjust="spacingAndGlyphs">25</text>
<text x="24.8" y="480.8" font-size="6.2" fill="#4D4D4D" text-anchor="end" textLength="6.9" lengthAdjust="spacingAndGlyphs">50</text>
<text x="24.8" y="456.93" font-size="6.2" fill="#4D4D4D" text-anchor="end" textLength="6.9" lengthAdjust="spacingAndGlyphs">75</text>
<text x="24.8" y="433.05" font-size="6.2" fill="#4D4D4D" text-anchor="end" textLength="10.34" lengthAdjust="spacingAndGlyphs">100</text>
<text x="57.61" y="538.2" font-size="6.6" fill="#4D4D4D" text-anchor="middle" textLength="7.71" lengthAdjust="spacingAndGlyphs">20</text>
<text x="102.41" y="538.2" font-size="6.6" fill="#4D4D4D" text-anchor="middle" textLength="7.71" lengthAdjust="spacingAndGlyphs">40</text>
<text x="147.21" y="538.2" font-size="6.6" fill="#4D4D4D" text-anchor="middle" textLength="7.71" lengthAdjust="spacingAndGlyphs">60</text>
<path d="M26 526.3H28.6M26 502.42H28.6M26 478.55H28.6M26 454.68H28.6M26 430.8H28.6M57.61 530.69V532.49M102.41 530.69V532.49M147.21 530.69V532.49" stroke="#737373" stroke-width="0.8"/>
<text x="102.46" y="545.8" font-size="6.5" fill="#2a2a2a" text-anchor="middle" textLength="55.7" lengthAdjust="spacingAndGlyphs">Chronological Age</text>
<text transform="translate(9.8 478.45) rotate(-90)" font-size="6.8" fill="#2a2a2a" text-anchor="middle" textLength="34.6" lengthAdjust="spacingAndGlyphs">% Methylation</text>
<g fill="#4d4d4d"><circle cx="53.6" cy="447.82" r="1.4"/><circle cx="55.02" cy="443.08" r="1.4"/><circle cx="55.16" cy="460.28" r="1.4"/><circle cx="56.25" cy="445.76" r="1.4"/><circle cx="57.74" cy="447.2" r="1.4"/><circle cx="58.58" cy="447.15" r="1.4"/><circle cx="59.92" cy="457" r="1.4"/><circle cx="60.38" cy="443.11" r="1.4"/><circle cx="61.47" cy="440.59" r="1.4"/><circle cx="63.18" cy="441.64" r="1.4"/><circle cx="63.85" cy="445.48" r="1.4"/><circle cx="65.03" cy="453.8" r="1.4"/><circle cx="65.39" cy="449.45" r="1.4"/><circle cx="67.03" cy="437.66" r="1.4"/><circle cx="67.74" cy="442.61" r="1.4"/><circle cx="68.53" cy="444.33" r="1.4"/><circle cx="69.62" cy="445.52" r="1.4"/><circle cx="71.24" cy="452.1" r="1.4"/><circle cx="72.25" cy="441.41" r="1.4"/><circle cx="72.87" cy="445.32" r="1.4"/><circle cx="73.41" cy="462.79" r="1.4"/><circle cx="74.51" cy="441.12" r="1.4"/><circle cx="76.02" cy="441.5" r="1.4"/><circle cx="77.33" cy="441.9" r="1.4"/><circle cx="77.64" cy="445.23" r="1.4"/><circle cx="79" cy="448.05" r="1.4"/><circle cx="79.48" cy="441.38" r="1.4"/><circle cx="81.41" cy="444.38" r="1.4"/><circle cx="81.91" cy="458.04" r="1.4"/><circle cx="82.6" cy="442.72" r="1.4"/><circle cx="84.1" cy="444.32" r="1.4"/><circle cx="85.5" cy="440.43" r="1.4"/><circle cx="85.59" cy="459.87" r="1.4"/><circle cx="86.7" cy="453.07" r="1.4"/><circle cx="87.84" cy="434.62" r="1.4"/><circle cx="88.7" cy="450.33" r="1.4"/><circle cx="90.31" cy="444.46" r="1.4"/><circle cx="91.22" cy="451.61" r="1.4"/><circle cx="91.66" cy="458.45" r="1.4"/><circle cx="93.23" cy="441.65" r="1.4"/><circle cx="94.43" cy="444.17" r="1.4"/><circle cx="95.53" cy="446.59" r="1.4"/><circle cx="96.26" cy="458.96" r="1.4"/><circle cx="97.68" cy="448.11" r="1.4"/><circle cx="98.28" cy="437" r="1.4"/><circle cx="99.04" cy="449.01" r="1.4"/><circle cx="100.16" cy="448.83" r="1.4"/><circle cx="101.06" cy="442.7" r="1.4"/><circle cx="101.84" cy="453.89" r="1.4"/><circle cx="103.55" cy="454.29" r="1.4"/><circle cx="103.8" cy="448.43" r="1.4"/><circle cx="105.29" cy="468.15" r="1.4"/><circle cx="106.52" cy="451.33" r="1.4"/><circle cx="107.24" cy="438.56" r="1.4"/><circle cx="108.06" cy="443.78" r="1.4"/><circle cx="109.21" cy="453.98" r="1.4"/><circle cx="110.72" cy="461.79" r="1.4"/><circle cx="111.03" cy="443.21" r="1.4"/><circle cx="112.73" cy="452.39" r="1.4"/><circle cx="113.88" cy="449.7" r="1.4"/><circle cx="114.08" cy="434.62" r="1.4"/><circle cx="115.53" cy="462.14" r="1.4"/><circle cx="115.94" cy="447.32" r="1.4"/><circle cx="117.33" cy="450.62" r="1.4"/><circle cx="118.57" cy="445.21" r="1.4"/><circle cx="119.11" cy="454.95" r="1.4"/><circle cx="120.55" cy="450.79" r="1.4"/><circle cx="121.55" cy="450.5" r="1.4"/><circle cx="122.71" cy="444.78" r="1.4"/><circle cx="123.73" cy="449.73" r="1.4"/><circle cx="124.8" cy="469.76" r="1.4"/><circle cx="125.21" cy="441.53" r="1.4"/><circle cx="126.78" cy="451.43" r="1.4"/><circle cx="127.57" cy="475.48" r="1.4"/><circle cx="128.18" cy="443.74" r="1.4"/><circle cx="129.27" cy="450.92" r="1.4"/><circle cx="130.74" cy="440.96" r="1.4"/><circle cx="131.34" cy="446.57" r="1.4"/><circle cx="132.15" cy="450.07" r="1.4"/><circle cx="133.71" cy="445.79" r="1.4"/><circle cx="134.55" cy="449.97" r="1.4"/><circle cx="136.13" cy="445.72" r="1.4"/><circle cx="136.73" cy="453" r="1.4"/><circle cx="138.2" cy="456.2" r="1.4"/><circle cx="139.11" cy="468.35" r="1.4"/><circle cx="139.77" cy="459.16" r="1.4"/><circle cx="141.16" cy="443.31" r="1.4"/><circle cx="141.8" cy="450.28" r="1.4"/><circle cx="142.56" cy="458.58" r="1.4"/><circle cx="143.38" cy="473.7" r="1.4"/><circle cx="144.99" cy="468.71" r="1.4"/><circle cx="145.94" cy="452.97" r="1.4"/><circle cx="146.37" cy="465.05" r="1.4"/><circle cx="148.21" cy="463.16" r="1.4"/><circle cx="148.57" cy="449.56" r="1.4"/><circle cx="149.98" cy="473.51" r="1.4"/><circle cx="151.25" cy="443.98" r="1.4"/><circle cx="152" cy="453.92" r="1.4"/><circle cx="153.08" cy="460.72" r="1.4"/><circle cx="153.59" cy="455.01" r="1.4"/><circle cx="155.03" cy="455.72" r="1.4"/><circle cx="155.79" cy="454.02" r="1.4"/><circle cx="55.8" cy="444.6" r="1.4"/><circle cx="158.25" cy="468.34" r="1.4"/><circle cx="153.73" cy="438.52" r="1.4"/><circle cx="159.59" cy="459.75" r="1.4"/><circle cx="72.93" cy="446.91" r="1.4"/><circle cx="153.71" cy="452.39" r="1.4"/><circle cx="101.3" cy="459.65" r="1.4"/><circle cx="164.17" cy="459.96" r="1.4"/><circle cx="73.46" cy="465.09" r="1.4"/><circle cx="165.58" cy="449.25" r="1.4"/><circle cx="167.38" cy="458.9" r="1.4"/><circle cx="168.2" cy="438.4" r="1.4"/><circle cx="168.65" cy="465.85" r="1.4"/><circle cx="127.05" cy="490.96" r="1.4"/><circle cx="151.69" cy="495.74" r="1.4"/><circle cx="160.65" cy="495.74" r="1.4"/><circle cx="59.85" cy="474.73" r="1.4"/><circle cx="80.01" cy="475.69" r="1.4"/><circle cx="53.13" cy="459.45" r="1.4"/></g>
<g fill="#F8766D"><circle cx="54.65" cy="436.53" r="1.4"/><circle cx="55.91" cy="436.53" r="1.4"/><circle cx="57.6" cy="443.94" r="1.4"/><circle cx="59.23" cy="436.63" r="1.4"/><circle cx="59.84" cy="439.02" r="1.4"/><circle cx="61.29" cy="443.32" r="1.4"/><circle cx="63" cy="442.87" r="1.4"/><circle cx="65.32" cy="442.85" r="1.4"/><circle cx="66" cy="438.53" r="1.4"/><circle cx="67.85" cy="445.88" r="1.4"/><circle cx="69.37" cy="445.53" r="1.4"/><circle cx="70.53" cy="445.37" r="1.4"/><circle cx="72.06" cy="439.6" r="1.4"/><circle cx="74.2" cy="439.74" r="1.4"/><circle cx="75.93" cy="436.53" r="1.4"/><circle cx="76.68" cy="446.89" r="1.4"/><circle cx="78.71" cy="447.55" r="1.4"/><circle cx="80.52" cy="443.64" r="1.4"/><circle cx="82.27" cy="457" r="1.4"/><circle cx="83.01" cy="450.26" r="1.4"/><circle cx="84.27" cy="446.89" r="1.4"/><circle cx="86.65" cy="458.17" r="1.4"/><circle cx="87.85" cy="444.43" r="1.4"/><circle cx="90.2" cy="450.01" r="1.4"/><circle cx="91.58" cy="447.8" r="1.4"/><circle cx="92.46" cy="450.2" r="1.4"/><circle cx="93.59" cy="448.63" r="1.4"/><circle cx="96.56" cy="445.63" r="1.4"/><circle cx="96.94" cy="448.15" r="1.4"/><circle cx="98.39" cy="440.45" r="1.4"/><circle cx="100.8" cy="465.97" r="1.4"/><circle cx="101.97" cy="444.73" r="1.4"/><circle cx="103.12" cy="456.16" r="1.4"/><circle cx="105.53" cy="455.06" r="1.4"/><circle cx="106.52" cy="447.72" r="1.4"/><circle cx="108.17" cy="448.45" r="1.4"/><circle cx="110.48" cy="444.38" r="1.4"/><circle cx="111.57" cy="442.84" r="1.4"/><circle cx="112.27" cy="452.75" r="1.4"/><circle cx="114.54" cy="447.04" r="1.4"/><circle cx="116.76" cy="463.37" r="1.4"/><circle cx="118.08" cy="455.62" r="1.4"/><circle cx="119.16" cy="451.33" r="1.4"/><circle cx="121.07" cy="455.1" r="1.4"/><circle cx="122.74" cy="449.73" r="1.4"/><circle cx="123.67" cy="464.84" r="1.4"/><circle cx="126.13" cy="463.44" r="1.4"/><circle cx="126.28" cy="452.2" r="1.4"/><circle cx="128.84" cy="445.72" r="1.4"/><circle cx="129.5" cy="454.68" r="1.4"/><circle cx="131.75" cy="454.81" r="1.4"/><circle cx="133.86" cy="458.32" r="1.4"/><circle cx="135.08" cy="454.51" r="1.4"/><circle cx="136.23" cy="443.01" r="1.4"/><circle cx="138.58" cy="481.49" r="1.4"/><circle cx="139.8" cy="464.33" r="1.4"/><circle cx="141.5" cy="461.52" r="1.4"/><circle cx="142.41" cy="474.55" r="1.4"/><circle cx="144.85" cy="459.8" r="1.4"/><circle cx="145.77" cy="443.58" r="1.4"/><circle cx="146.59" cy="475.06" r="1.4"/><circle cx="148.57" cy="452.21" r="1.4"/><circle cx="151.08" cy="474.98" r="1.4"/><circle cx="151.42" cy="486.57" r="1.4"/><circle cx="149.22" cy="468.1" r="1.4"/><circle cx="154.51" cy="458.03" r="1.4"/><circle cx="81.07" cy="450.64" r="1.4"/><circle cx="157.55" cy="456.99" r="1.4"/><circle cx="148.2" cy="461.48" r="1.4"/><circle cx="160.53" cy="459.41" r="1.4"/><circle cx="104.69" cy="444.6" r="1.4"/><circle cx="130.98" cy="454.67" r="1.4"/></g>
<line x1="53.13" y1="445.12" x2="169.61" y2="458.97" stroke="#4d4d4d" stroke-width="0.8"/>
<line x1="53.13" y1="436.72" x2="165.13" y2="468.24" stroke="#F8766D" stroke-width="0.8"/>
<text x="35.3" y="513.7" font-size="6.0" fill="#F8766D" fill-opacity="0.85" textLength="65.23" lengthAdjust="spacingAndGlyphs"><tspan font-style="italic">R</tspan> = − 0.65, <tspan font-style="italic">p</tspan> = 3.8e-10</text>
<text x="35.3" y="518" font-size="6.0" fill="#7a7a7a" fill-opacity="0.85" textLength="59.95" lengthAdjust="spacingAndGlyphs"><tspan font-style="italic">R</tspan> = − 0.31, <tspan font-style="italic">p</tspan> = 1e-04</text>
<text x="208.6" y="422.1" font-size="6.6" font-weight="bold" fill="#1a1a1a" textLength="29.9" lengthAdjust="spacingAndGlyphs">TRIM59</text>
<path d="M208.3 426.22V530.69H356.03" fill="none" stroke="#737373" stroke-width="0.9"/>
<text x="204.5" y="528.55" font-size="6.2" fill="#4D4D4D" text-anchor="end" textLength="3.45" lengthAdjust="spacingAndGlyphs">0</text>
<text x="204.5" y="504.67" font-size="6.2" fill="#4D4D4D" text-anchor="end" textLength="6.9" lengthAdjust="spacingAndGlyphs">25</text>
<text x="204.5" y="480.8" font-size="6.2" fill="#4D4D4D" text-anchor="end" textLength="6.9" lengthAdjust="spacingAndGlyphs">50</text>
<text x="204.5" y="456.93" font-size="6.2" fill="#4D4D4D" text-anchor="end" textLength="6.9" lengthAdjust="spacingAndGlyphs">75</text>
<text x="204.5" y="433.05" font-size="6.2" fill="#4D4D4D" text-anchor="end" textLength="10.34" lengthAdjust="spacingAndGlyphs">100</text>
<text x="237.31" y="538.2" font-size="6.6" fill="#4D4D4D" text-anchor="middle" textLength="7.71" lengthAdjust="spacingAndGlyphs">20</text>
<text x="282.11" y="538.2" font-size="6.6" fill="#4D4D4D" text-anchor="middle" textLength="7.71" lengthAdjust="spacingAndGlyphs">40</text>
<text x="326.91" y="538.2" font-size="6.6" fill="#4D4D4D" text-anchor="middle" textLength="7.71" lengthAdjust="spacingAndGlyphs">60</text>
<path d="M205.7 526.3H208.3M205.7 502.42H208.3M205.7 478.55H208.3M205.7 454.68H208.3M205.7 430.8H208.3M237.31 530.69V532.49M282.11 530.69V532.49M326.91 530.69V532.49" stroke="#737373" stroke-width="0.8"/>
<text x="282.16" y="545.8" font-size="6.5" fill="#2a2a2a" text-anchor="middle" textLength="55.7" lengthAdjust="spacingAndGlyphs">Chronological Age</text>
<text transform="translate(189.5 478.45) rotate(-90)" font-size="6.8" fill="#2a2a2a" text-anchor="middle" textLength="34.6" lengthAdjust="spacingAndGlyphs">% Methylation</text>
<g fill="#4d4d4d"><circle cx="233.41" cy="502.67" r="1.4"/><circle cx="234.05" cy="491.64" r="1.4"/><circle cx="235.68" cy="490.76" r="1.4"/><circle cx="236.03" cy="502.79" r="1.4"/><circle cx="237.41" cy="496.59" r="1.4"/><circle cx="238.86" cy="489.89" r="1.4"/><circle cx="239.91" cy="481.96" r="1.4"/><circle cx="240.53" cy="490.25" r="1.4"/><circle cx="241.32" cy="495.42" r="1.4"/><circle cx="242.41" cy="484.12" r="1.4"/><circle cx="243.65" cy="494.67" r="1.4"/><circle cx="244.75" cy="495.49" r="1.4"/><circle cx="245.98" cy="483.98" r="1.4"/><circle cx="246.04" cy="494" r="1.4"/><circle cx="247.01" cy="482.3" r="1.4"/><circle cx="248.33" cy="480.82" r="1.4"/><circle cx="249.4" cy="487.25" r="1.4"/><circle cx="250.6" cy="494.52" r="1.4"/><circle cx="251.5" cy="483.54" r="1.4"/><circle cx="252.93" cy="487.49" r="1.4"/><circle cx="253.24" cy="489.65" r="1.4"/><circle cx="254.14" cy="484.15" r="1.4"/><circle cx="255.61" cy="486.36" r="1.4"/><circle cx="256.66" cy="498.16" r="1.4"/><circle cx="258" cy="484.84" r="1.4"/><circle cx="258.53" cy="482.96" r="1.4"/><circle cx="259.77" cy="481.02" r="1.4"/><circle cx="260.27" cy="482.05" r="1.4"/><circle cx="261.36" cy="483.46" r="1.4"/><circle cx="262.64" cy="502.6" r="1.4"/><circle cx="263.63" cy="488.11" r="1.4"/><circle cx="264.85" cy="483" r="1.4"/><circle cx="265.42" cy="482.83" r="1.4"/><circle cx="266.42" cy="482.93" r="1.4"/><circle cx="267.92" cy="482.61" r="1.4"/><circle cx="268.76" cy="496.76" r="1.4"/><circle cx="269.64" cy="487.42" r="1.4"/><circle cx="271.03" cy="486.28" r="1.4"/><circle cx="271.65" cy="487.45" r="1.4"/><circle cx="272.78" cy="483.82" r="1.4"/><circle cx="273.93" cy="495.53" r="1.4"/><circle cx="275.04" cy="477.64" r="1.4"/><circle cx="275.61" cy="498.92" r="1.4"/><circle cx="276.91" cy="487.32" r="1.4"/><circle cx="278" cy="478.25" r="1.4"/><circle cx="278.87" cy="481.93" r="1.4"/><circle cx="279.83" cy="491.7" r="1.4"/><circle cx="280.98" cy="480.26" r="1.4"/><circle cx="281.94" cy="480.6" r="1.4"/><circle cx="283.44" cy="477.84" r="1.4"/><circle cx="283.89" cy="483.07" r="1.4"/><circle cx="285.03" cy="483.15" r="1.4"/><circle cx="285.55" cy="480.65" r="1.4"/><circle cx="286.97" cy="481.16" r="1.4"/><circle cx="288.53" cy="489.28" r="1.4"/><circle cx="288.98" cy="481.69" r="1.4"/><circle cx="290.06" cy="491.53" r="1.4"/><circle cx="291.47" cy="478.49" r="1.4"/><circle cx="292.28" cy="489.53" r="1.4"/><circle cx="293.51" cy="477.11" r="1.4"/><circle cx="293.76" cy="480.53" r="1.4"/><circle cx="295.31" cy="472.26" r="1.4"/><circle cx="296.28" cy="490.54" r="1.4"/><circle cx="297.12" cy="486.59" r="1.4"/><circle cx="298.47" cy="473.66" r="1.4"/><circle cx="299.53" cy="481.42" r="1.4"/><circle cx="300.4" cy="478.2" r="1.4"/><circle cx="301.62" cy="480.61" r="1.4"/><circle cx="302.48" cy="464.9" r="1.4"/><circle cx="303.01" cy="483.16" r="1.4"/><circle cx="304.41" cy="473.46" r="1.4"/><circle cx="305.67" cy="471.96" r="1.4"/><circle cx="305.95" cy="479.85" r="1.4"/><circle cx="306.96" cy="476.08" r="1.4"/><circle cx="307.99" cy="463.61" r="1.4"/><circle cx="309.69" cy="463.32" r="1.4"/><circle cx="310.28" cy="477.74" r="1.4"/><circle cx="311.35" cy="486.67" r="1.4"/><circle cx="312.26" cy="480.96" r="1.4"/><circle cx="313.11" cy="483.47" r="1.4"/><circle cx="314.23" cy="482.51" r="1.4"/><circle cx="315.08" cy="482.49" r="1.4"/><circle cx="316.5" cy="467.02" r="1.4"/><circle cx="317.56" cy="484.55" r="1.4"/><circle cx="317.98" cy="477.93" r="1.4"/><circle cx="318.98" cy="474.08" r="1.4"/><circle cx="320.19" cy="485.13" r="1.4"/><circle cx="321.58" cy="471.91" r="1.4"/><circle cx="322.25" cy="477.06" r="1.4"/><circle cx="323.49" cy="481.21" r="1.4"/><circle cx="324.25" cy="479.39" r="1.4"/><circle cx="325.74" cy="471.71" r="1.4"/><circle cx="326.5" cy="480.24" r="1.4"/><circle cx="327.51" cy="471.01" r="1.4"/><circle cx="328.74" cy="475.14" r="1.4"/><circle cx="329.46" cy="483.83" r="1.4"/><circle cx="330.87" cy="458.27" r="1.4"/><circle cx="331.81" cy="476.59" r="1.4"/><circle cx="332.16" cy="465.46" r="1.4"/><circle cx="333.12" cy="481.69" r="1.4"/><circle cx="334.45" cy="476.17" r="1.4"/><circle cx="335.75" cy="462.24" r="1.4"/><circle cx="336.43" cy="469.88" r="1.4"/><circle cx="255.48" cy="487.74" r="1.4"/><circle cx="252.58" cy="496.85" r="1.4"/><circle cx="234.48" cy="497.98" r="1.4"/><circle cx="292" cy="492.82" r="1.4"/><circle cx="266.49" cy="489.2" r="1.4"/><circle cx="237.99" cy="505.53" r="1.4"/><circle cx="250.49" cy="496.22" r="1.4"/><circle cx="321.9" cy="473.08" r="1.4"/><circle cx="268.83" cy="487.04" r="1.4"/><circle cx="268.65" cy="479.49" r="1.4"/><circle cx="307.28" cy="468.21" r="1.4"/><circle cx="349.29" cy="463.05" r="1.4"/><circle cx="246.27" cy="502.42" r="1.4"/><circle cx="232.83" cy="502.42" r="1.4"/></g>
<g fill="#F8766D"><circle cx="233.39" cy="493.3" r="1.4"/><circle cx="235.4" cy="487.03" r="1.4"/><circle cx="236.84" cy="482.13" r="1.4"/><circle cx="238.02" cy="479.5" r="1.4"/><circle cx="240.46" cy="483.91" r="1.4"/><circle cx="242" cy="472.02" r="1.4"/><circle cx="243.3" cy="483.43" r="1.4"/><circle cx="244.98" cy="479.71" r="1.4"/><circle cx="246.52" cy="480.6" r="1.4"/><circle cx="249.22" cy="477.24" r="1.4"/><circle cx="250.35" cy="479.32" r="1.4"/><circle cx="251.54" cy="474.7" r="1.4"/><circle cx="252.66" cy="467.18" r="1.4"/><circle cx="255.22" cy="484.2" r="1.4"/><circle cx="256.21" cy="476.97" r="1.4"/><circle cx="257.8" cy="486.88" r="1.4"/><circle cx="259.95" cy="473.16" r="1.4"/><circle cx="262.11" cy="475.53" r="1.4"/><circle cx="263.92" cy="480.16" r="1.4"/><circle cx="265.08" cy="483.53" r="1.4"/><circle cx="267.24" cy="473.77" r="1.4"/><circle cx="268.06" cy="464.85" r="1.4"/><circle cx="269.26" cy="468.55" r="1.4"/><circle cx="270.89" cy="477.21" r="1.4"/><circle cx="272.84" cy="480.82" r="1.4"/><circle cx="275.07" cy="471.41" r="1.4"/><circle cx="277.15" cy="478.42" r="1.4"/><circle cx="278.32" cy="480.37" r="1.4"/><circle cx="278.97" cy="479.16" r="1.4"/><circle cx="280.85" cy="478.25" r="1.4"/><circle cx="282.4" cy="481.95" r="1.4"/><circle cx="284.94" cy="480.96" r="1.4"/><circle cx="286.19" cy="472.09" r="1.4"/><circle cx="287.54" cy="482.31" r="1.4"/><circle cx="289.14" cy="460.81" r="1.4"/><circle cx="291.9" cy="474.38" r="1.4"/><circle cx="293.46" cy="472.29" r="1.4"/><circle cx="293.8" cy="469.07" r="1.4"/><circle cx="296.93" cy="475.61" r="1.4"/><circle cx="298.26" cy="475.95" r="1.4"/><circle cx="300.34" cy="464.25" r="1.4"/><circle cx="300.64" cy="469.12" r="1.4"/><circle cx="303.36" cy="465.33" r="1.4"/><circle cx="304.06" cy="469.57" r="1.4"/><circle cx="306.26" cy="461.4" r="1.4"/><circle cx="307.64" cy="470.4" r="1.4"/><circle cx="308.6" cy="469.3" r="1.4"/><circle cx="310.29" cy="459.26" r="1.4"/><circle cx="313.5" cy="464.54" r="1.4"/><circle cx="313.74" cy="468.56" r="1.4"/><circle cx="315.9" cy="466.75" r="1.4"/><circle cx="317.92" cy="475.76" r="1.4"/><circle cx="319.38" cy="475.38" r="1.4"/><circle cx="320.21" cy="471.07" r="1.4"/><circle cx="322.32" cy="461.66" r="1.4"/><circle cx="323.47" cy="470.51" r="1.4"/><circle cx="326.23" cy="470.11" r="1.4"/><circle cx="327.31" cy="461.06" r="1.4"/><circle cx="328.65" cy="462.93" r="1.4"/><circle cx="330.76" cy="463.12" r="1.4"/><circle cx="332.52" cy="462.19" r="1.4"/><circle cx="333.47" cy="466.78" r="1.4"/><circle cx="295.43" cy="481.44" r="1.4"/><circle cx="283.07" cy="475.79" r="1.4"/><circle cx="285.61" cy="481.32" r="1.4"/><circle cx="340.24" cy="464.71" r="1.4"/><circle cx="342.95" cy="467.59" r="1.4"/><circle cx="344.28" cy="465.18" r="1.4"/></g>
<line x1="232.83" y1="495.45" x2="349.31" y2="468.24" stroke="#4d4d4d" stroke-width="0.8"/>
<line x1="232.83" y1="483.9" x2="344.83" y2="461.65" stroke="#F8766D" stroke-width="0.8"/>
<text x="215" y="446.8" font-size="6.0" fill="#F8766D" fill-opacity="0.85" textLength="59.78" lengthAdjust="spacingAndGlyphs"><tspan font-style="italic">R</tspan> = 0.69, <tspan font-style="italic">p</tspan> = 5.5e-12</text>
<text x="215" y="451.4" font-size="6.0" fill="#7a7a7a" fill-opacity="0.85" textLength="59.78" lengthAdjust="spacingAndGlyphs"><tspan font-style="italic">R</tspan> = 0.73, <tspan font-style="italic">p</tspan> < 2.2e-16</text>
<text x="436.9" y="462" font-size="6.3" fill="#2a2a2a" textLength="45.2" lengthAdjust="spacingAndGlyphs">SAMPLE_SET</text>
<line x1="437.2" y1="470.2" x2="445" y2="470.2" stroke="#4d4d4d" stroke-width="1"/><circle cx="441.1" cy="470.2" r="1.4" fill="#4d4d4d"/>
<text x="449.9" y="471.8" font-size="5.7" fill="#2a2a2a" textLength="11.7" lengthAdjust="spacingAndGlyphs">Jung</text>
<line x1="437.2" y1="477.2" x2="445" y2="477.2" stroke="#F8766D" stroke-width="1"/><circle cx="441.1" cy="477.2" r="1.4" fill="#F8766D"/>
<text x="449.9" y="478.8" font-size="5.7" fill="#2a2a2a" textLength="27.9" lengthAdjust="spacingAndGlyphs">Verification</text></svg></body></html>
